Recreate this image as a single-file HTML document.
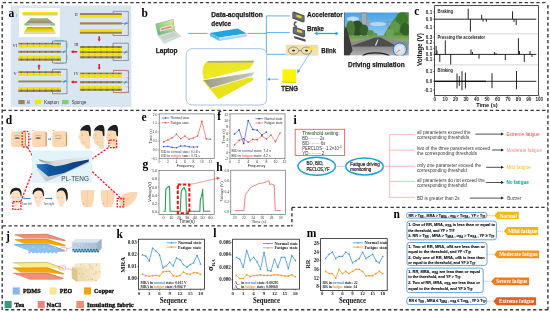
<!DOCTYPE html>
<html><head><meta charset="utf-8"><title>Figure</title>
<style>html,body{margin:0;padding:0;background:#fff;width:550px;height:312px;overflow:hidden}svg{display:block}</style>
</head><body>
<svg width="550" height="312" viewBox="0 0 550 312">
<defs>
<linearGradient id="spg" x1="0" y1="0" x2="0" y2="1"><stop offset="0" stop-color="#b6ad8e"/><stop offset="1" stop-color="#8f8468"/></linearGradient>
<linearGradient id="byg" x1="0" y1="0" x2="0" y2="1"><stop offset="0" stop-color="#b0a000"/><stop offset="0.55" stop-color="#e0d400"/><stop offset="1" stop-color="#f3e800"/></linearGradient>
<linearGradient id="scr" x1="1" y1="0" x2="0" y2="1"><stop offset="0" stop-color="#dcec8a"/><stop offset="0.45" stop-color="#a6d88a"/><stop offset="1" stop-color="#4fb27e"/></linearGradient>
<linearGradient id="ty1" x1="0" y1="0" x2="1" y2="1"><stop offset="0" stop-color="#ebe31a"/><stop offset="1" stop-color="#f2ec34"/></linearGradient>
<linearGradient id="tgr" x1="0" y1="0" x2="1" y2="0"><stop offset="0" stop-color="#9c9c86"/><stop offset="1" stop-color="#c9c9ba"/></linearGradient>
<linearGradient id="sky" x1="0" y1="0" x2="0" y2="1"><stop offset="0" stop-color="#4aa2e2"/><stop offset="1" stop-color="#cfe7f7"/></linearGradient>
<clipPath id="phc"><rect x="343.8" y="12.3" width="65" height="43.3"/></clipPath>
<linearGradient id="dsh" x1="0" y1="0" x2="0" y2="1"><stop offset="0" stop-color="#8a8a8a"/><stop offset="1" stop-color="#b2b2b2"/></linearGradient>
<linearGradient id="plg" x1="0" y1="0" x2="1" y2="0"><stop offset="0" stop-color="#8d9196"/><stop offset="0.3" stop-color="#d4d7da"/><stop offset="1" stop-color="#e6e8ea"/></linearGradient>
<linearGradient id="plb" x1="0" y1="0" x2="1" y2="0"><stop offset="0" stop-color="#2a86d2"/><stop offset="0.25" stop-color="#0d57a0"/><stop offset="1" stop-color="#0a3d78"/></linearGradient>
<linearGradient id="plw" x1="0" y1="0" x2="1" y2="1"><stop offset="0" stop-color="#eef0f2"/><stop offset="0.5" stop-color="#c9ced3"/><stop offset="1" stop-color="#8f969d"/></linearGradient>
<linearGradient id="pdm" x1="0" y1="0" x2="1" y2="0"><stop offset="0" stop-color="#c9d9ea"/><stop offset="1" stop-color="#aabdd1"/></linearGradient>
<linearGradient id="peo" x1="0" y1="0" x2="1" y2="0"><stop offset="0" stop-color="#e8d8a6"/><stop offset="1" stop-color="#f7eccb"/></linearGradient>
</defs>
<rect x="0" y="0" width="550" height="312" fill="#fff"/>
<rect x="10.8" y="5.5" width="120.6" height="101.7" fill="#d9e5f0" />
<text x="8.4" y="16.9" font-family="'Liberation Serif', serif" font-size="11.5" font-weight="bold" fill="#000" text-anchor="start" >a</text>
<rect x="18.9" y="8.1" width="40.9" height="28.9" fill="#ffffff" />
<text x="16.2" y="16.5" font-family="'Liberation Serif', serif" font-size="3.5" font-weight="normal" fill="#777" text-anchor="start" >I</text>
<rect x="22.6" y="12" width="35" height="3.6" fill="#f3e600" />
<rect x="22.6" y="13.4" width="35" height="1.2" fill="#cdc7ab" />
<polygon points="30.7,18.2 47.5,18.2 54.8,24.2 24.5,24.2" fill="url(#spg)" />
<polygon points="24.5,23.2 54.8,23.2 54.8,25.7 24.5,25.7" fill="#c9c7c0" />
<ellipse cx="27" cy="24.3" rx="2.6" ry="1.1" fill="#77d36f" />
<ellipse cx="52.5" cy="24.3" rx="2.6" ry="1.1" fill="#77d36f" />
<ellipse cx="32.5" cy="19" rx="2" ry="0.9" fill="#77d36f" />
<ellipse cx="46" cy="19" rx="2" ry="0.9" fill="#77d36f" />
<polygon points="27.3,26.9 52,26.9 55.4,32.2 24,32.2" fill="url(#byg)" />
<rect x="24" y="32.2" width="31.4" height="1.4" fill="#ddd6b0" />
<rect x="24" y="33" width="31.4" height="0.8" fill="#f3e600" />
<rect x="79.9" y="13" width="42" height="2" fill="#9a8654" />
<rect x="79.9" y="15" width="42" height="2.8" fill="#f3e600" />
<rect x="79.9" y="22.3" width="42" height="2.2" fill="#9a8654" />
<rect x="79.9" y="29" width="42" height="2.8" fill="#f3e600" />
<rect x="79.9" y="31.8" width="42" height="2" fill="#9a8654" />
<polyline points="113,13 113,11.4 128.3,11.4 128.3,35.5 113,35.5 113,33.8" fill="none" stroke="#5a5f66" stroke-width="0.6" />
<line x1="122" y1="23.4" x2="128.3" y2="23.4" stroke="#5a5f66" stroke-width="0.6" />
<polygon points="123.6,25.4 125.5,23 124.7,23 127.6,21.4 125.7,23.8 126.5,23.8" fill="#1a8fe0" />
<text x="74.8" y="16" font-family="'Liberation Serif', serif" font-size="4.4" font-weight="normal" fill="#333" text-anchor="start" >II</text>
<line x1="99.2" y1="36.2" x2="99.2" y2="39.6" stroke="#e8141c" stroke-width="1.5" />
<polygon points="97.5,39.2 100.9,39.2 99.2,41.6" fill="#e8141c" />
<rect x="79.9" y="46" width="42" height="2" fill="#9a8654" />
<rect x="82.4" y="46.5" width="1" height="1" fill="#3d3a33" />
<rect x="88.4" y="46.5" width="1" height="1" fill="#3d3a33" />
<rect x="94.4" y="46.5" width="1" height="1" fill="#3d3a33" />
<rect x="100.4" y="46.5" width="1" height="1" fill="#3d3a33" />
<rect x="106.4" y="46.5" width="1" height="1" fill="#3d3a33" />
<rect x="112.4" y="46.5" width="1" height="1" fill="#3d3a33" />
<rect x="118.4" y="46.5" width="1" height="1" fill="#3d3a33" />
<rect x="79.9" y="48" width="42" height="3" fill="#f3e600" />
<rect x="82.3" y="49.3" width="1.2" height="0.4" fill="#8a8060" />
<rect x="88.3" y="49.3" width="1.2" height="0.4" fill="#8a8060" />
<rect x="94.3" y="49.3" width="1.2" height="0.4" fill="#8a8060" />
<rect x="100.3" y="49.3" width="1.2" height="0.4" fill="#8a8060" />
<rect x="106.3" y="49.3" width="1.2" height="0.4" fill="#8a8060" />
<rect x="112.3" y="49.3" width="1.2" height="0.4" fill="#8a8060" />
<rect x="118.3" y="49.3" width="1.2" height="0.4" fill="#8a8060" />
<rect x="79.9" y="51.2" width="42" height="2" fill="#9a8654" />
<rect x="82.4" y="51.7" width="1" height="1" fill="#3d3a33" />
<rect x="88.4" y="51.7" width="1" height="1" fill="#3d3a33" />
<rect x="94.4" y="51.7" width="1" height="1" fill="#3d3a33" />
<rect x="100.4" y="51.7" width="1" height="1" fill="#3d3a33" />
<rect x="106.4" y="51.7" width="1" height="1" fill="#3d3a33" />
<rect x="112.4" y="51.7" width="1" height="1" fill="#3d3a33" />
<rect x="118.4" y="51.7" width="1" height="1" fill="#3d3a33" />
<rect x="79.9" y="53.2" width="42" height="3" fill="#f3e600" />
<rect x="82.3" y="54.5" width="1.2" height="0.4" fill="#8a8060" />
<rect x="88.3" y="54.5" width="1.2" height="0.4" fill="#8a8060" />
<rect x="94.3" y="54.5" width="1.2" height="0.4" fill="#8a8060" />
<rect x="100.3" y="54.5" width="1.2" height="0.4" fill="#8a8060" />
<rect x="106.3" y="54.5" width="1.2" height="0.4" fill="#8a8060" />
<rect x="112.3" y="54.5" width="1.2" height="0.4" fill="#8a8060" />
<rect x="118.3" y="54.5" width="1.2" height="0.4" fill="#8a8060" />
<rect x="79.9" y="56.2" width="42" height="2.2" fill="#9a8654" />
<rect x="82.4" y="56.8" width="1" height="1" fill="#3d3a33" />
<rect x="88.4" y="56.8" width="1" height="1" fill="#3d3a33" />
<rect x="94.4" y="56.8" width="1" height="1" fill="#3d3a33" />
<rect x="100.4" y="56.8" width="1" height="1" fill="#3d3a33" />
<rect x="106.4" y="56.8" width="1" height="1" fill="#3d3a33" />
<rect x="112.4" y="56.8" width="1" height="1" fill="#3d3a33" />
<rect x="118.4" y="56.8" width="1" height="1" fill="#3d3a33" />
<polyline points="113,46 113,43.2 128.3,43.2 128.3,60.5 113,60.5 113,58.4" fill="none" stroke="#5a5f66" stroke-width="0.6" />
<line x1="122" y1="52.2" x2="128.3" y2="52.2" stroke="#5a5f66" stroke-width="0.6" />
<polygon points="123.6,54.2 125.5,51.8 124.7,51.8 127.6,50.2 125.7,52.6 126.5,52.6" fill="#1a8fe0" />
<text x="74.2" y="46.4" font-family="'Liberation Serif', serif" font-size="4.4" font-weight="normal" fill="#333" text-anchor="start" >III</text>
<line x1="77.2" y1="51.8" x2="73" y2="51.8" stroke="#e8141c" stroke-width="1.5" />
<polygon points="73.4,50.1 73.4,53.5 71,51.8" fill="#e8141c" />
<line x1="99.2" y1="64" x2="99.2" y2="67.8" stroke="#e8141c" stroke-width="1.5" />
<polygon points="97.5,67.4 100.9,67.4 99.2,69.8" fill="#e8141c" />
<rect x="79.9" y="72.6" width="42" height="1.8" fill="#9a8654" />
<rect x="82.4" y="73" width="1" height="1" fill="#3d3a33" />
<rect x="88.4" y="73" width="1" height="1" fill="#3d3a33" />
<rect x="94.4" y="73" width="1" height="1" fill="#3d3a33" />
<rect x="100.4" y="73" width="1" height="1" fill="#3d3a33" />
<rect x="106.4" y="73" width="1" height="1" fill="#3d3a33" />
<rect x="112.4" y="73" width="1" height="1" fill="#3d3a33" />
<rect x="118.4" y="73" width="1" height="1" fill="#3d3a33" />
<rect x="79.9" y="74.4" width="42" height="3.4" fill="#f3e600" />
<rect x="82.3" y="75.9" width="1.2" height="0.4" fill="#8a8060" />
<rect x="88.3" y="75.9" width="1.2" height="0.4" fill="#8a8060" />
<rect x="94.3" y="75.9" width="1.2" height="0.4" fill="#8a8060" />
<rect x="100.3" y="75.9" width="1.2" height="0.4" fill="#8a8060" />
<rect x="106.3" y="75.9" width="1.2" height="0.4" fill="#8a8060" />
<rect x="112.3" y="75.9" width="1.2" height="0.4" fill="#8a8060" />
<rect x="118.3" y="75.9" width="1.2" height="0.4" fill="#8a8060" />
<rect x="79.9" y="81.1" width="42" height="2.2" fill="#9a8654" />
<rect x="82.4" y="81.7" width="1" height="1" fill="#3d3a33" />
<rect x="88.4" y="81.7" width="1" height="1" fill="#3d3a33" />
<rect x="94.4" y="81.7" width="1" height="1" fill="#3d3a33" />
<rect x="100.4" y="81.7" width="1" height="1" fill="#3d3a33" />
<rect x="106.4" y="81.7" width="1" height="1" fill="#3d3a33" />
<rect x="112.4" y="81.7" width="1" height="1" fill="#3d3a33" />
<rect x="118.4" y="81.7" width="1" height="1" fill="#3d3a33" />
<rect x="79.9" y="85.7" width="42" height="3" fill="#f3e600" />
<rect x="82.3" y="87" width="1.2" height="0.4" fill="#8a8060" />
<rect x="88.3" y="87" width="1.2" height="0.4" fill="#8a8060" />
<rect x="94.3" y="87" width="1.2" height="0.4" fill="#8a8060" />
<rect x="100.3" y="87" width="1.2" height="0.4" fill="#8a8060" />
<rect x="106.3" y="87" width="1.2" height="0.4" fill="#8a8060" />
<rect x="112.3" y="87" width="1.2" height="0.4" fill="#8a8060" />
<rect x="118.3" y="87" width="1.2" height="0.4" fill="#8a8060" />
<rect x="79.9" y="88.7" width="42" height="2.2" fill="#9a8654" />
<rect x="82.4" y="89.3" width="1" height="1" fill="#3d3a33" />
<rect x="88.4" y="89.3" width="1" height="1" fill="#3d3a33" />
<rect x="94.4" y="89.3" width="1" height="1" fill="#3d3a33" />
<rect x="100.4" y="89.3" width="1" height="1" fill="#3d3a33" />
<rect x="106.4" y="89.3" width="1" height="1" fill="#3d3a33" />
<rect x="112.4" y="89.3" width="1" height="1" fill="#3d3a33" />
<rect x="118.4" y="89.3" width="1" height="1" fill="#3d3a33" />
<polyline points="113.4,72.6 113.4,70.5 128.5,70.5 128.5,92.5 113.4,92.5 113.4,90.9" fill="none" stroke="#5a5f66" stroke-width="0.6" />
<line x1="122" y1="82.2" x2="128.5" y2="82.2" stroke="#5a5f66" stroke-width="0.6" />
<polygon points="123.6,84.2 125.5,81.8 124.7,81.8 127.6,80.2 125.7,82.6 126.5,82.6" fill="#1a8fe0" />
<line x1="126.5" y1="71.5" x2="129.5" y2="72.7" stroke="#f05a5a" stroke-width="0.5" />
<line x1="126.5" y1="77.5" x2="129.5" y2="78.7" stroke="#f05a5a" stroke-width="0.5" />
<line x1="126.5" y1="86.5" x2="129.5" y2="87.7" stroke="#f05a5a" stroke-width="0.5" />
<line x1="126.5" y1="91.8" x2="129.5" y2="93" stroke="#f05a5a" stroke-width="0.5" />
<line x1="114.5" y1="70.3" x2="126" y2="70.3" stroke="#f05a5a" stroke-width="0.5" />
<line x1="114.5" y1="92.7" x2="126" y2="92.7" stroke="#f05a5a" stroke-width="0.5" />
<text x="74" y="75.2" font-family="'Liberation Serif', serif" font-size="4.4" font-weight="normal" fill="#333" text-anchor="start" >IV</text>
<line x1="77.2" y1="82" x2="73" y2="82" stroke="#e8141c" stroke-width="1.5" />
<polygon points="73.4,80.3 73.4,83.7 71,82" fill="#e8141c" />
<rect x="18.3" y="42.8" width="42.7" height="1.9" fill="#9a8654" />
<rect x="20.8" y="43.25" width="1" height="1" fill="#3d3a33" />
<rect x="26.92" y="43.25" width="1" height="1" fill="#3d3a33" />
<rect x="33.03" y="43.25" width="1" height="1" fill="#3d3a33" />
<rect x="39.15" y="43.25" width="1" height="1" fill="#3d3a33" />
<rect x="45.27" y="43.25" width="1" height="1" fill="#3d3a33" />
<rect x="51.38" y="43.25" width="1" height="1" fill="#3d3a33" />
<rect x="57.5" y="43.25" width="1" height="1" fill="#3d3a33" />
<rect x="18.3" y="44.7" width="42.7" height="2.9" fill="#f3e600" />
<rect x="20.7" y="45.95" width="1.2" height="0.4" fill="#8a8060" />
<rect x="26.82" y="45.95" width="1.2" height="0.4" fill="#8a8060" />
<rect x="32.93" y="45.95" width="1.2" height="0.4" fill="#8a8060" />
<rect x="39.05" y="45.95" width="1.2" height="0.4" fill="#8a8060" />
<rect x="45.17" y="45.95" width="1.2" height="0.4" fill="#8a8060" />
<rect x="51.28" y="45.95" width="1.2" height="0.4" fill="#8a8060" />
<rect x="57.4" y="45.95" width="1.2" height="0.4" fill="#8a8060" />
<rect x="18.3" y="50.8" width="42.7" height="2" fill="#9a8654" />
<rect x="20.8" y="51.3" width="1" height="1" fill="#3d3a33" />
<rect x="26.92" y="51.3" width="1" height="1" fill="#3d3a33" />
<rect x="33.03" y="51.3" width="1" height="1" fill="#3d3a33" />
<rect x="39.15" y="51.3" width="1" height="1" fill="#3d3a33" />
<rect x="45.27" y="51.3" width="1" height="1" fill="#3d3a33" />
<rect x="51.38" y="51.3" width="1" height="1" fill="#3d3a33" />
<rect x="57.5" y="51.3" width="1" height="1" fill="#3d3a33" />
<rect x="18.3" y="55.6" width="42.7" height="2.9" fill="#f3e600" />
<rect x="20.7" y="56.85" width="1.2" height="0.4" fill="#8a8060" />
<rect x="26.82" y="56.85" width="1.2" height="0.4" fill="#8a8060" />
<rect x="32.93" y="56.85" width="1.2" height="0.4" fill="#8a8060" />
<rect x="39.05" y="56.85" width="1.2" height="0.4" fill="#8a8060" />
<rect x="45.17" y="56.85" width="1.2" height="0.4" fill="#8a8060" />
<rect x="51.28" y="56.85" width="1.2" height="0.4" fill="#8a8060" />
<rect x="57.4" y="56.85" width="1.2" height="0.4" fill="#8a8060" />
<rect x="18.3" y="58.5" width="42.7" height="2.3" fill="#9a8654" />
<rect x="20.8" y="59.15" width="1" height="1" fill="#3d3a33" />
<rect x="26.92" y="59.15" width="1" height="1" fill="#3d3a33" />
<rect x="33.03" y="59.15" width="1" height="1" fill="#3d3a33" />
<rect x="39.15" y="59.15" width="1" height="1" fill="#3d3a33" />
<rect x="45.27" y="59.15" width="1" height="1" fill="#3d3a33" />
<rect x="51.38" y="59.15" width="1" height="1" fill="#3d3a33" />
<rect x="57.5" y="59.15" width="1" height="1" fill="#3d3a33" />
<polyline points="52.5,42.8 52.5,41 66.4,41 66.4,63 52.5,63 52.5,60.8" fill="none" stroke="#5a5f66" stroke-width="0.6" />
<line x1="61" y1="51.8" x2="66.4" y2="51.8" stroke="#5a5f66" stroke-width="0.6" />
<polygon points="62,53.8 63.9,51.4 63.1,51.4 66,49.8 64.1,52.2 64.9,52.2" fill="#1a8fe0" />
<line x1="55" y1="40.6" x2="64" y2="40.6" stroke="#1fb5a0" stroke-width="0.6" />
<line x1="55" y1="63.4" x2="64" y2="63.4" stroke="#1fb5a0" stroke-width="0.6" />
<line x1="67" y1="43" x2="67" y2="48" stroke="#1fb5a0" stroke-width="0.6" />
<line x1="67" y1="55" x2="67" y2="60" stroke="#1fb5a0" stroke-width="0.6" />
<text x="12.6" y="46.6" font-family="'Liberation Serif', serif" font-size="4.4" font-weight="normal" fill="#333" text-anchor="start" >VI</text>
<line x1="39" y1="69.6" x2="39" y2="66.2" stroke="#e8141c" stroke-width="1.5" />
<polygon points="37.3,66.6 40.7,66.6 39,64.2" fill="#e8141c" />
<rect x="18.3" y="71.2" width="42.7" height="1.9" fill="#9a8654" />
<rect x="20.8" y="71.65" width="1" height="1" fill="#3d3a33" />
<rect x="26.92" y="71.65" width="1" height="1" fill="#3d3a33" />
<rect x="33.03" y="71.65" width="1" height="1" fill="#3d3a33" />
<rect x="39.15" y="71.65" width="1" height="1" fill="#3d3a33" />
<rect x="45.27" y="71.65" width="1" height="1" fill="#3d3a33" />
<rect x="51.38" y="71.65" width="1" height="1" fill="#3d3a33" />
<rect x="57.5" y="71.65" width="1" height="1" fill="#3d3a33" />
<rect x="18.3" y="73.1" width="42.7" height="2.9" fill="#f3e600" />
<rect x="20.7" y="74.35" width="1.2" height="0.4" fill="#8a8060" />
<rect x="26.82" y="74.35" width="1.2" height="0.4" fill="#8a8060" />
<rect x="32.93" y="74.35" width="1.2" height="0.4" fill="#8a8060" />
<rect x="39.05" y="74.35" width="1.2" height="0.4" fill="#8a8060" />
<rect x="45.17" y="74.35" width="1.2" height="0.4" fill="#8a8060" />
<rect x="51.28" y="74.35" width="1.2" height="0.4" fill="#8a8060" />
<rect x="57.4" y="74.35" width="1.2" height="0.4" fill="#8a8060" />
<rect x="18.3" y="80.5" width="42.7" height="1.9" fill="#9a8654" />
<rect x="18.3" y="87" width="42.7" height="2.6" fill="#f3e600" />
<rect x="20.7" y="88.1" width="1.2" height="0.4" fill="#8a8060" />
<rect x="26.82" y="88.1" width="1.2" height="0.4" fill="#8a8060" />
<rect x="32.93" y="88.1" width="1.2" height="0.4" fill="#8a8060" />
<rect x="39.05" y="88.1" width="1.2" height="0.4" fill="#8a8060" />
<rect x="45.17" y="88.1" width="1.2" height="0.4" fill="#8a8060" />
<rect x="51.28" y="88.1" width="1.2" height="0.4" fill="#8a8060" />
<rect x="57.4" y="88.1" width="1.2" height="0.4" fill="#8a8060" />
<rect x="18.3" y="89.6" width="42.7" height="2.4" fill="#9a8654" />
<rect x="20.8" y="90.3" width="1" height="1" fill="#3d3a33" />
<rect x="26.92" y="90.3" width="1" height="1" fill="#3d3a33" />
<rect x="33.03" y="90.3" width="1" height="1" fill="#3d3a33" />
<rect x="39.15" y="90.3" width="1" height="1" fill="#3d3a33" />
<rect x="45.27" y="90.3" width="1" height="1" fill="#3d3a33" />
<rect x="51.38" y="90.3" width="1" height="1" fill="#3d3a33" />
<rect x="57.5" y="90.3" width="1" height="1" fill="#3d3a33" />
<polyline points="52.5,71.2 52.5,69.3 67,69.3 67,93.7 52.5,93.7 52.5,92" fill="none" stroke="#5a5f66" stroke-width="0.6" />
<line x1="61" y1="81.4" x2="67" y2="81.4" stroke="#5a5f66" stroke-width="0.6" />
<polygon points="62.6,83.4 64.5,81 63.7,81 66.6,79.4 64.7,81.8 65.5,81.8" fill="#1a8fe0" />
<text x="13.4" y="74.8" font-family="'Liberation Serif', serif" font-size="4.4" font-weight="normal" fill="#333" text-anchor="start" >V</text>
<rect x="18.3" y="100" width="6.4" height="4.2" fill="#9a8654" />
<text x="26.8" y="104" font-family="'Liberation Sans', sans-serif" font-size="5.2" font-weight="normal" fill="#333" text-anchor="start"  textLength="2.9" lengthAdjust="spacingAndGlyphs">Al</text>
<rect x="34.8" y="100" width="6.4" height="4.2" fill="#f3e600" />
<text x="44" y="104" font-family="'Liberation Sans', sans-serif" font-size="5.2" font-weight="normal" fill="#333" text-anchor="start"  textLength="14.9" lengthAdjust="spacingAndGlyphs">Kapton</text>
<rect x="62" y="100" width="6.5" height="4.2" fill="#77d36f" />
<text x="71.7" y="104" font-family="'Liberation Sans', sans-serif" font-size="5.2" font-weight="normal" fill="#333" text-anchor="start"  textLength="14.6" lengthAdjust="spacingAndGlyphs">Sponge</text>
<text x="141.4" y="17" font-family="'Liberation Serif', serif" font-size="11.5" font-weight="bold" fill="#000" text-anchor="start" >b</text>
<polygon points="155.3,23.8 173.4,19 175,31 157.9,35.8" fill="#a7b0ad" />
<polygon points="155.9,24.3 172.9,19.8 174.4,30.6 158.4,35.1" fill="url(#scr)" />
<polygon points="159.6,28 172,24.8 172.6,28.2 160.2,31.4" fill="#f3e6e2" />
<polygon points="160.6,28.8 171.2,26.1 171.6,27.6 161,30.3" fill="#e0625e" opacity="0.75"/>
<polygon points="157.9,35.8 175,31 180.8,36.2 164.2,43.4" fill="#d6ddd9" stroke="#b3bbb7" stroke-width="0.4" />
<polygon points="160.5,36.6 174.6,32.6 177.8,35.6 164,40" fill="#c8d0cc" />
<text x="155.8" y="52.8" font-family="'Liberation Sans', sans-serif" font-size="6.9" font-weight="bold" fill="#1a1a1a" text-anchor="start" stroke="#1a1a1a" stroke-width="0.25" textLength="21.7" lengthAdjust="spacingAndGlyphs">Laptop</text>
<text x="211.3" y="17.4" font-family="'Liberation Sans', sans-serif" font-size="6.8" font-weight="bold" fill="#1a1a1a" text-anchor="start" stroke="#1a1a1a" stroke-width="0.25" textLength="51.5" lengthAdjust="spacingAndGlyphs">Data-acquisition</text>
<text x="211.3" y="25.5" font-family="'Liberation Sans', sans-serif" font-size="6.8" font-weight="bold" fill="#1a1a1a" text-anchor="start" stroke="#1a1a1a" stroke-width="0.25" textLength="19.8" lengthAdjust="spacingAndGlyphs">device</text>
<line x1="188" y1="33.4" x2="207.6" y2="33.4" stroke="#2ba3dc" stroke-width="0.8" />
<polygon points="209.8,33 237.5,28.4 246.6,33.4 219,37.4" fill="#1fa5e0" />
<polygon points="219,37.4 246.6,33.4 246.8,36.6 219.4,41" fill="#a3d9f1" />
<line x1="219.2" y1="38.3" x2="246.6" y2="34.3" stroke="#e8f6fc" stroke-width="0.5" />
<polygon points="209.8,33 219,37.4 219.4,41 210,36" fill="#5cbde8" />
<line x1="247.6" y1="33.4" x2="266.4" y2="33.4" stroke="#2ba3dc" stroke-width="0.8" />
<line x1="266.4" y1="15.9" x2="266.4" y2="54.3" stroke="#2ba3dc" stroke-width="0.8" />
<line x1="266.4" y1="15.9" x2="289.7" y2="15.9" stroke="#2ba3dc" stroke-width="0.8" />
<line x1="266.4" y1="32.6" x2="289.7" y2="32.6" stroke="#2ba3dc" stroke-width="0.8" />
<line x1="266.4" y1="54.3" x2="285.7" y2="54.3" stroke="#2ba3dc" stroke-width="0.8" />
<polygon points="292.3,12.5 294,11.6 304.6,15.6 304.6,21.6 303,22.6 292.3,18.6" fill="#55575b" />
<polygon points="293.2,13 303.8,16.4 303.8,20.8 293.2,17.6" fill="#6d6f73" />
<polygon points="296.5,14.4 301.5,16 301.5,18.5 296.5,16.9" fill="#e6cf3c" />
<polygon points="292.8,27.3 294.5,26.4 305.1,30.4 305.1,36.4 303.5,37.4 292.8,33.4" fill="#55575b" />
<polygon points="293.7,27.8 304.3,31.2 304.3,35.6 293.7,32.4" fill="#6d6f73" />
<polygon points="297,29.2 302,30.8 302,33.3 297,31.7" fill="#e6cf3c" />
<path d="M296.5,21.8 C293.5,23.0 293.2,25.2 296.8,26.8" fill="none" stroke="#4a4c50" stroke-width="1.5" />
<polygon points="294.2,36 305.6,39.6 305.6,41.8 294.2,38.2" fill="#4a4c50" />
<text x="307" y="16.5" font-family="'Liberation Sans', sans-serif" font-size="7.1" font-weight="bold" fill="#1a1a1a" text-anchor="start" stroke="#1a1a1a" stroke-width="0.25" textLength="35.8" lengthAdjust="spacingAndGlyphs">Accelerator</text>
<text x="307" y="30.6" font-family="'Liberation Sans', sans-serif" font-size="7.1" font-weight="bold" fill="#1a1a1a" text-anchor="start" stroke="#1a1a1a" stroke-width="0.25" textLength="17" lengthAdjust="spacingAndGlyphs">Brake</text>
<line x1="316.5" y1="33.5" x2="336.5" y2="33.5" stroke="#2ba3dc" stroke-width="1.3" />
<polygon points="314.4,33.5 317.4,31.6 317.4,35.4" fill="#2ba3dc" />
<polygon points="338.6,33.5 335.6,31.6 335.6,35.4" fill="#2ba3dc" />
<rect x="285.7" y="44.8" width="32.7" height="10.9" fill="#efe0b4" />
<ellipse cx="293.5" cy="50.6" rx="5.2" ry="3.6" fill="none" stroke="#444" stroke-width="0.45" />
<ellipse cx="306.5" cy="50.6" rx="5.2" ry="3.6" fill="none" stroke="#444" stroke-width="0.45" />
<line x1="298.7" y1="50.6" x2="301.3" y2="50.6" stroke="#444" stroke-width="0.45" />
<ellipse cx="293.5" cy="50.6" rx="1.5" ry="0.9" fill="#222" />
<ellipse cx="306.5" cy="50.6" rx="1.5" ry="0.9" fill="#222" />
<polygon points="311,45.8 311.9,47.6 313.8,47.7 312.3,48.9 312.9,50.8 311,49.7 309.1,50.8 309.7,48.9 308.2,47.7 310.1,47.6" fill="#ffe600" />
<text x="321.3" y="52.8" font-family="'Liberation Sans', sans-serif" font-size="7.1" font-weight="bold" fill="#1a1a1a" text-anchor="start" stroke="#1a1a1a" stroke-width="0.25" textLength="14.7" lengthAdjust="spacingAndGlyphs">Blink</text>
<line x1="311" y1="51.5" x2="298.4" y2="71" stroke="#2ba3dc" stroke-width="0.6" />
<polygon points="297.2,73.2 297.4,69.2 300.4,70.9" fill="#2ba3dc" />
<rect x="282.4" y="69.4" width="13.8" height="13.3" fill="#fff500" />
<rect x="282.4" y="81.7" width="13.8" height="1" fill="#d8cc00" />
<text x="281.3" y="90.7" font-family="'Liberation Sans', sans-serif" font-size="7.5" font-weight="bold" fill="#1a1a1a" text-anchor="start" stroke="#1a1a1a" stroke-width="0.3" textLength="16.6" lengthAdjust="spacingAndGlyphs">TENG</text>
<line x1="278.5" y1="79.2" x2="269.5" y2="79.2" stroke="#2ba3dc" stroke-width="0.7" />
<polygon points="267.3,79.2 270,77.7 270,80.7" fill="#2ba3dc" />
<rect x="186.1" y="48.7" width="80.6" height="56.3" fill="#fff" stroke="#8fb5d3" stroke-width="0.8" rx="6" />
<polygon points="202.5,80 253.5,77.6 252.8,80.6 218.6,99.2" fill="#e9e21a" />
<polygon points="202.5,80 218.6,99.2 217.2,97.4" fill="#d2cb10" />
<polygon points="203.8,80.2 254.5,72.2 251.5,76.2 210.8,88.4" fill="url(#tgr)" />
<line x1="211" y1="88.2" x2="251.5" y2="76.4" stroke="#f4f4ee" stroke-width="0.9" />
<path d="M207.9,61 L254,60.7 C253,64 251.5,66.5 249.7,68.5 L204.0,79.8 C202.4,76 202.0,71 203.0,67 C204.0,64.5 205.5,62.5 207.9,61 Z" fill="url(#ty1)" />
<path d="M207.9,61 L254,60.7 L253.7,62.4 L207.3,62.7 Z" fill="#a9a994" />
<path d="M204.0,79.4 C202.6,75.8 202.3,71 203.2,67.2" fill="none" stroke="#f7f2a0" stroke-width="0.8" />
<g clip-path="url(#phc)">
<rect x="343.8" y="12.3" width="65" height="43.3" fill="url(#sky)" />
<ellipse cx="353" cy="19" rx="6" ry="2.5" fill="#e3f0fa" opacity="0.7"/>
<ellipse cx="378" cy="24" rx="8" ry="2" fill="#e3f0fa" opacity="0.6"/>
<rect x="360.7" y="12.3" width="6.6" height="14.2" fill="#8794a3" />
<rect x="362" y="13.5" width="4.2" height="13" fill="#a0adb9" />
<rect x="367.3" y="20" width="2.2" height="7" fill="#9aa6b2" />
<line x1="388" y1="21" x2="388" y2="36" stroke="#8a8a8a" stroke-width="0.6" />
<line x1="385" y1="21.5" x2="391" y2="21.5" stroke="#8a8a8a" stroke-width="0.5" />
<path d="M408.8,12.3 L403,12.3 C397,15 393,20 390,25 C387,29 385,33 383,37 L408.8,40 Z" fill="#4f8a3a" />
<ellipse cx="402" cy="19" rx="6" ry="7" fill="#3f7a2c" />
<ellipse cx="395" cy="27" rx="5" ry="5.5" fill="#5e9848" />
<ellipse cx="405" cy="30" rx="5" ry="7" fill="#335f26" />
<ellipse cx="390" cy="33" rx="4" ry="4" fill="#6aa452" />
<ellipse cx="399" cy="36" rx="4.5" ry="3" fill="#4f8a3a" />
<ellipse cx="357" cy="28.5" rx="6.5" ry="8" fill="#2c4f25" />
<ellipse cx="364" cy="30.5" rx="4.5" ry="6" fill="#35602b" />
<ellipse cx="350.5" cy="29" rx="4.5" ry="8.5" fill="#4a7a3a" />
<ellipse cx="370.5" cy="33.5" rx="3.5" ry="3.5" fill="#5a8f45" />
<ellipse cx="375" cy="34.8" rx="2.5" ry="2" fill="#6a9a50" />
<rect x="343.8" y="35.5" width="65" height="8.5" fill="#72a055" />
<rect x="343.8" y="38.5" width="65" height="5.5" fill="#86a868" />
<polygon points="343.8,43.5 375,37.2 381,37.2 408.8,42.5 408.8,46.8 343.8,46.8" fill="#8c8c8c" />
<polygon points="349,46.8 375.2,37.4 380.8,37.4 398,46.8" fill="#4d4d4d" />
<polygon points="377.6,39.5 378.5,39.5 376.2,45.5 374.8,45.5" fill="#e6e6e6" />
<rect x="343.8" y="46.8" width="65" height="8.8" fill="url(#dsh)" />
<path d="M362.5,55.9 C367,51.9 383,51.9 389.5,55.9" fill="none" stroke="#1c1c1c" stroke-width="1.3" />
<polygon points="343.8,26 346.5,28 350.5,42 352.5,50.5 349.5,55.6 343.8,55.6" fill="#3b3b3b" />
<rect x="343.8" y="12.3" width="1" height="17.7" fill="#5a6a5a" />
<circle cx="399.8" cy="49.6" r="6.6" fill="#dfe5ea" stroke="#2a7ed0" stroke-width="1.1" />
<circle cx="399.8" cy="49.6" r="5" fill="none" stroke="#9aa8b5" stroke-width="0.6" stroke-dasharray="0.5 0.8"/>
<line x1="399.8" y1="50" x2="396.5" y2="52.5" stroke="#e03030" stroke-width="0.6" />
</g>
<text x="348" y="66.6" font-family="'Liberation Sans', sans-serif" font-size="7.5" font-weight="bold" fill="#1a1a1a" text-anchor="start" stroke="#1a1a1a" stroke-width="0.25" textLength="56.6" lengthAdjust="spacingAndGlyphs">Driving simulation</text>
<text x="414.3" y="14.5" font-family="'Liberation Serif', serif" font-size="11.5" font-weight="bold" fill="#000" text-anchor="start" >c</text>
<rect x="434.6" y="33" width="104" height="1.6" fill="#e4e4e4" />
<rect x="434.6" y="64" width="104" height="1.6" fill="#e4e4e4" />
<rect x="434.6" y="5.6" width="104" height="89.9" fill="none" stroke="#222" stroke-width="0.8" />
<line x1="433.1" y1="11.9" x2="434.6" y2="11.9" stroke="#222" stroke-width="0.5" />
<text x="432.2" y="13.5" font-family="'Liberation Sans', sans-serif" font-size="4.6" font-weight="bold" fill="#222" text-anchor="end" >0.1</text>
<line x1="433.1" y1="19.2" x2="434.6" y2="19.2" stroke="#222" stroke-width="0.5" />
<text x="432.2" y="20.8" font-family="'Liberation Sans', sans-serif" font-size="4.6" font-weight="bold" fill="#222" text-anchor="end" >0.0</text>
<line x1="433.1" y1="26.9" x2="434.6" y2="26.9" stroke="#222" stroke-width="0.5" />
<text x="432.2" y="28.5" font-family="'Liberation Sans', sans-serif" font-size="4.6" font-weight="bold" fill="#222" text-anchor="end" >-0.1</text>
<line x1="433.1" y1="37.2" x2="434.6" y2="37.2" stroke="#222" stroke-width="0.5" />
<text x="432.2" y="38.8" font-family="'Liberation Sans', sans-serif" font-size="4.6" font-weight="bold" fill="#222" text-anchor="end" >0.3</text>
<line x1="433.1" y1="42.8" x2="434.6" y2="42.8" stroke="#222" stroke-width="0.5" />
<text x="432.2" y="44.4" font-family="'Liberation Sans', sans-serif" font-size="4.6" font-weight="bold" fill="#222" text-anchor="end" >0.2</text>
<line x1="433.1" y1="48.4" x2="434.6" y2="48.4" stroke="#222" stroke-width="0.5" />
<text x="432.2" y="50" font-family="'Liberation Sans', sans-serif" font-size="4.6" font-weight="bold" fill="#222" text-anchor="end" >0.1</text>
<line x1="433.1" y1="54.2" x2="434.6" y2="54.2" stroke="#222" stroke-width="0.5" />
<text x="432.2" y="55.8" font-family="'Liberation Sans', sans-serif" font-size="4.6" font-weight="bold" fill="#222" text-anchor="end" >0.0</text>
<line x1="433.1" y1="59.8" x2="434.6" y2="59.8" stroke="#222" stroke-width="0.5" />
<text x="432.2" y="61.4" font-family="'Liberation Sans', sans-serif" font-size="4.6" font-weight="bold" fill="#222" text-anchor="end" >-0.1</text>
<line x1="433.1" y1="71.5" x2="434.6" y2="71.5" stroke="#222" stroke-width="0.5" />
<text x="432.2" y="73.1" font-family="'Liberation Sans', sans-serif" font-size="4.6" font-weight="bold" fill="#222" text-anchor="end" >0.1</text>
<line x1="433.1" y1="81.2" x2="434.6" y2="81.2" stroke="#222" stroke-width="0.5" />
<text x="432.2" y="82.8" font-family="'Liberation Sans', sans-serif" font-size="4.6" font-weight="bold" fill="#222" text-anchor="end" >0.0</text>
<line x1="433.1" y1="90.1" x2="434.6" y2="90.1" stroke="#222" stroke-width="0.5" />
<text x="432.2" y="91.7" font-family="'Liberation Sans', sans-serif" font-size="4.6" font-weight="bold" fill="#222" text-anchor="end" >-0.1</text>
<line x1="434.7" y1="95.5" x2="434.7" y2="97" stroke="#222" stroke-width="0.5" />
<text x="434.7" y="101.4" font-family="'Liberation Sans', sans-serif" font-size="4.6" font-weight="bold" fill="#222" text-anchor="middle" >0</text>
<line x1="445.17" y1="95.5" x2="445.17" y2="97" stroke="#222" stroke-width="0.5" />
<text x="445.17" y="101.4" font-family="'Liberation Sans', sans-serif" font-size="4.6" font-weight="bold" fill="#222" text-anchor="middle" >10</text>
<line x1="455.63" y1="95.5" x2="455.63" y2="97" stroke="#222" stroke-width="0.5" />
<text x="455.63" y="101.4" font-family="'Liberation Sans', sans-serif" font-size="4.6" font-weight="bold" fill="#222" text-anchor="middle" >20</text>
<line x1="466.1" y1="95.5" x2="466.1" y2="97" stroke="#222" stroke-width="0.5" />
<text x="466.1" y="101.4" font-family="'Liberation Sans', sans-serif" font-size="4.6" font-weight="bold" fill="#222" text-anchor="middle" >30</text>
<line x1="476.56" y1="95.5" x2="476.56" y2="97" stroke="#222" stroke-width="0.5" />
<text x="476.56" y="101.4" font-family="'Liberation Sans', sans-serif" font-size="4.6" font-weight="bold" fill="#222" text-anchor="middle" >40</text>
<line x1="487.03" y1="95.5" x2="487.03" y2="97" stroke="#222" stroke-width="0.5" />
<text x="487.03" y="101.4" font-family="'Liberation Sans', sans-serif" font-size="4.6" font-weight="bold" fill="#222" text-anchor="middle" >50</text>
<line x1="497.49" y1="95.5" x2="497.49" y2="97" stroke="#222" stroke-width="0.5" />
<text x="497.49" y="101.4" font-family="'Liberation Sans', sans-serif" font-size="4.6" font-weight="bold" fill="#222" text-anchor="middle" >60</text>
<line x1="507.96" y1="95.5" x2="507.96" y2="97" stroke="#222" stroke-width="0.5" />
<text x="507.96" y="101.4" font-family="'Liberation Sans', sans-serif" font-size="4.6" font-weight="bold" fill="#222" text-anchor="middle" >70</text>
<line x1="518.42" y1="95.5" x2="518.42" y2="97" stroke="#222" stroke-width="0.5" />
<text x="518.42" y="101.4" font-family="'Liberation Sans', sans-serif" font-size="4.6" font-weight="bold" fill="#222" text-anchor="middle" >80</text>
<line x1="528.88" y1="95.5" x2="528.88" y2="97" stroke="#222" stroke-width="0.5" />
<text x="528.88" y="101.4" font-family="'Liberation Sans', sans-serif" font-size="4.6" font-weight="bold" fill="#222" text-anchor="middle" >90</text>
<line x1="539.35" y1="95.5" x2="539.35" y2="97" stroke="#222" stroke-width="0.5" />
<text x="539.35" y="101.4" font-family="'Liberation Sans', sans-serif" font-size="4.6" font-weight="bold" fill="#222" text-anchor="middle" >100</text>
<text x="476.2" y="106.6" font-family="'Liberation Sans', sans-serif" font-size="6.2" font-weight="bold" fill="#111" text-anchor="start"  textLength="21.5" lengthAdjust="spacingAndGlyphs">Time (s)</text>
<text x="0" y="0" font-family="'Liberation Sans', sans-serif" font-size="6.4" font-weight="bold" fill="#111" text-anchor="middle" transform="translate(421.5,49.5) rotate(-90)" textLength="33" lengthAdjust="spacingAndGlyphs">Voltage (V)</text>
<text x="437.6" y="12.6" font-family="'Liberation Sans', sans-serif" font-size="4.8" font-weight="bold" fill="#1a1a1a" text-anchor="start"  textLength="15.4" lengthAdjust="spacingAndGlyphs">Braking</text>
<text x="437.6" y="38.7" font-family="'Liberation Sans', sans-serif" font-size="4.8" font-weight="bold" fill="#1a1a1a" text-anchor="start"  textLength="47.6" lengthAdjust="spacingAndGlyphs">Pressing the accelerator</text>
<text x="437.6" y="72.3" font-family="'Liberation Sans', sans-serif" font-size="4.8" font-weight="bold" fill="#1a1a1a" text-anchor="start"  textLength="15.4" lengthAdjust="spacingAndGlyphs">Blinking</text>
<line x1="434.6" y1="19.2" x2="536.3" y2="19.2" stroke="#000" stroke-width="0.85" />
<line x1="468.2" y1="19.2" x2="468.2" y2="8.7" stroke="#000" stroke-width="0.85" />
<line x1="470.4" y1="19.2" x2="470.4" y2="31.6" stroke="#000" stroke-width="0.85" />
<line x1="481.7" y1="19.2" x2="481.7" y2="14.8" stroke="#000" stroke-width="0.85" />
<line x1="483" y1="19.2" x2="483" y2="21.5" stroke="#000" stroke-width="0.85" />
<line x1="486.3" y1="19.2" x2="486.3" y2="21.8" stroke="#000" stroke-width="0.85" />
<line x1="512.5" y1="19.2" x2="512.5" y2="11.4" stroke="#000" stroke-width="0.85" />
<line x1="516.2" y1="19.2" x2="516.2" y2="25" stroke="#000" stroke-width="0.85" />
<line x1="514" y1="19.2" x2="514" y2="22" stroke="#000" stroke-width="0.85" />
<line x1="434.6" y1="54.4" x2="536.3" y2="54.4" stroke="#000" stroke-width="0.85" />
<line x1="436.1" y1="54.4" x2="436.1" y2="45.8" stroke="#000" stroke-width="0.85" />
<line x1="437" y1="54.4" x2="437" y2="50.5" stroke="#000" stroke-width="0.85" />
<line x1="439.8" y1="54.4" x2="439.8" y2="62" stroke="#000" stroke-width="0.85" />
<line x1="445.3" y1="54.4" x2="445.3" y2="40.4" stroke="#000" stroke-width="0.85" />
<line x1="450.7" y1="54.4" x2="450.7" y2="64.5" stroke="#000" stroke-width="0.85" />
<line x1="471" y1="54.4" x2="471" y2="49.5" stroke="#000" stroke-width="0.85" />
<line x1="472.5" y1="54.4" x2="472.5" y2="52" stroke="#000" stroke-width="0.85" />
<line x1="479" y1="54.4" x2="479" y2="58.7" stroke="#000" stroke-width="0.85" />
<line x1="494.4" y1="54.4" x2="494.4" y2="52" stroke="#000" stroke-width="0.85" />
<line x1="496" y1="54.4" x2="496" y2="53" stroke="#000" stroke-width="0.85" />
<line x1="505.3" y1="54.4" x2="505.3" y2="60" stroke="#000" stroke-width="0.85" />
<line x1="518.4" y1="54.4" x2="518.4" y2="38.2" stroke="#000" stroke-width="0.85" />
<line x1="519.5" y1="54.4" x2="519.5" y2="51" stroke="#000" stroke-width="0.85" />
<line x1="524.3" y1="54.4" x2="524.3" y2="62" stroke="#000" stroke-width="0.85" />
<line x1="530" y1="54.4" x2="530" y2="51" stroke="#000" stroke-width="0.85" />
<line x1="532" y1="54.4" x2="532" y2="57" stroke="#000" stroke-width="0.85" />
<rect x="434.6" y="80.6" width="51.4" height="1.4" fill="#111" />
<line x1="486" y1="81.3" x2="536.3" y2="81.3" stroke="#000" stroke-width="0.85" />
<line x1="457" y1="73.5" x2="457" y2="88.5" stroke="#000" stroke-width="0.85" />
<line x1="459.3" y1="76" x2="459.3" y2="86" stroke="#000" stroke-width="0.85" />
<line x1="462" y1="71.2" x2="462" y2="90.2" stroke="#000" stroke-width="0.85" />
<line x1="465.4" y1="72.5" x2="465.4" y2="88.5" stroke="#000" stroke-width="0.85" />
<line x1="492" y1="73.2" x2="492" y2="88.2" stroke="#000" stroke-width="0.85" />
<line x1="516.5" y1="71" x2="516.5" y2="89.2" stroke="#000" stroke-width="0.85" />
<text x="5.7" y="124" font-family="'Liberation Serif', serif" font-size="11.5" font-weight="bold" fill="#000" text-anchor="start" >d</text>
<rect x="11.2" y="131.2" width="14.8" height="15.8" fill="#fbd8b4" rx="2.2" />
<path d="M14,136 Q17.2,134.6 20.4,136" fill="none" stroke="#a08870" stroke-width="0.5" />
<path d="M14.2,138.2 Q17.2,136.2 20.2,138.2 Q17.2,139.4 14.2,138.2 Z" fill="#5e5048" />
<line x1="25.5" y1="132.4" x2="25.5" y2="145.8" stroke="#f5842c" stroke-width="1.1" />
<text x="10.9" y="130.6" font-family="'Liberation Serif', serif" font-size="2.6" font-weight="normal" fill="#555" text-anchor="start" >I</text>
<rect x="32.2" y="131.2" width="13" height="15.8" fill="#fbd8b4" rx="2.2" />
<path d="M35,136 Q38.2,134.6 41.4,136" fill="none" stroke="#a08870" stroke-width="0.5" />
<path d="M35.2,138.2 Q38.2,136.2 41.2,138.2 Q38.2,139.4 35.2,138.2 Z" fill="#5e5048" />
<polyline points="44.3,132 46.1,132 46.1,146.2 44.3,146.2" fill="none" stroke="#6e7f95" stroke-width="0.4" />
<line x1="46.1" y1="132.4" x2="46.1" y2="145.8" stroke="#f5842c" stroke-width="1.1" />
<text x="31.9" y="130.6" font-family="'Liberation Serif', serif" font-size="2.6" font-weight="normal" fill="#555" text-anchor="start" >II</text>
<rect x="52.2" y="131.2" width="13.3" height="15.8" fill="#fbd8b4" rx="2.2" />
<path d="M55,136 Q58.2,134.6 61.4,136" fill="none" stroke="#a08870" stroke-width="0.5" />
<path d="M55.2,138 Q58.2,139.2 61.2,138" fill="none" stroke="#8a7565" stroke-width="0.6" />
<polyline points="64.6,132 66.4,132 66.4,146.2 64.6,146.2" fill="none" stroke="#6e7f95" stroke-width="0.4" />
<line x1="66.4" y1="132.4" x2="66.4" y2="145.8" stroke="#f5842c" stroke-width="1.1" />
<text x="51.9" y="130.6" font-family="'Liberation Serif', serif" font-size="2.6" font-weight="normal" fill="#555" text-anchor="start" >III</text>
<line x1="28.6" y1="139.1" x2="30.5" y2="139.1" stroke="#2a8fd6" stroke-width="1.0" />
<polygon points="30.3,137.9 30.3,140.3 31.7,139.1" fill="#2a8fd6" />
<line x1="48" y1="139.1" x2="50.2" y2="139.1" stroke="#2a8fd6" stroke-width="1.0" />
<polygon points="50,137.9 50,140.3 51.4,139.1" fill="#2a8fd6" />
<rect x="22.2" y="131.3" width="6.6" height="15.7" fill="none" stroke="#f0141e" stroke-width="1.3" rx="1.5" stroke-dasharray="1.8 1.1"/>
<line x1="27.5" y1="147.3" x2="33.4" y2="157.2" stroke="#f0141e" stroke-width="1.3" stroke-dasharray="2.2 1.4" />
<path d="M80.9,130.5 C79.4,133 79.2,135.5 78.9,138.5 L80.3,139.5 C80.5,141.5 80.9,143.5 82.1,145 L84.9,146 L85.9,149 L90.4,148.6 L89.9,140 L90.4,131.5 Z" fill="#fbd8b4" />
<path d="M80.2,130.8 C81.4,126.5 84.9,124.8 88.4,125 C90.9,125.5 91.1,129.5 90.7,136.5 L89.2,135.5 L88.7,131.5 C85.4,130 82.4,130.3 80.2,130.8 Z" fill="#1f1f1f" />
<circle cx="82.2" cy="135" r="0.45" fill="#7a5040" />
<circle cx="83.7" cy="142.6" r="0.4" fill="#9a5a4a" />
<path d="M94.6,130.5 C93.1,133 92.9,135.5 92.6,138.5 L94,139.5 C94.2,141.5 94.6,143.5 95.8,145 L98.6,146 L99.6,149 L104.1,148.6 L103.6,140 L104.1,131.5 Z" fill="#fbd8b4" />
<path d="M93.9,130.8 C95.1,126.5 98.6,124.8 102.1,125 C104.6,125.5 104.8,129.5 104.4,136.5 L102.9,135.5 L102.4,131.5 C99.1,130 96.1,130.3 93.9,130.8 Z" fill="#1f1f1f" />
<circle cx="95.9" cy="135" r="0.45" fill="#7a5040" />
<circle cx="97.4" cy="142.6" r="0.4" fill="#9a5a4a" />
<path d="M108.2,130.5 C106.7,133 106.5,135.5 106.2,138.5 L107.6,139.5 C107.8,141.5 108.2,143.5 109.4,145 L112.2,146 L113.2,149 L117.7,148.6 L117.2,140 L117.7,131.5 Z" fill="#fbd8b4" />
<path d="M107.5,130.8 C108.7,126.5 112.2,124.8 115.7,125 C118.2,125.5 118.4,129.5 118,136.5 L116.5,135.5 L116,131.5 C112.7,130 109.7,130.3 107.5,130.8 Z" fill="#1f1f1f" />
<circle cx="109.5" cy="135" r="0.45" fill="#7a5040" />
<circle cx="111" cy="142.6" r="0.4" fill="#9a5a4a" />
<rect x="108.8" y="140.2" width="7.8" height="7.4" fill="none" stroke="#f0141e" stroke-width="1.3" rx="1.2" stroke-dasharray="1.8 1.1"/>
<line x1="108.4" y1="147.8" x2="91.8" y2="159" stroke="#f0141e" stroke-width="1.3" stroke-dasharray="2.2 1.4" />
<rect x="32" y="150.6" width="60.4" height="32.6" fill="#e2f3fa" />
<polygon points="36.4,169.4 37.6,168.4 88.8,160.6 88.8,163 46.8,181.6 45.6,181.2" fill="url(#plw)" />
<polygon points="36.4,164.3 45.5,163.9 88.7,158.5 88.8,161.6 64,173 48.4,176.6 37.2,167.4" fill="url(#plb)" />
<path d="M38.3,159.2 C42,159.8 45,161.0 48.5,161.3 C54,161.0 60,159.8 66,159.0 L88.7,157.0 L88.8,159.6 L73.0,162.3 C66,164.5 60,166.2 55.5,166.2 C49,165.0 43,162.6 39.6,160.8 Z" fill="url(#plg)" />
<text x="61.2" y="181.4" font-family="'Liberation Sans', sans-serif" font-size="7.2" font-weight="normal" fill="#3a3a3a" text-anchor="start"  textLength="27.7" lengthAdjust="spacingAndGlyphs">PL-TENG</text>
<rect x="14" y="202" width="4.2" height="4.6" fill="#fde1c6" />
<path d="M10.8,192 C10.5,198 12.5,204 16,205.3 C19.5,204.3 21.3,199 21,192 C20,189 12,189 10.8,192 Z" fill="#fde1c6" />
<ellipse cx="21.4" cy="198.5" rx="0.9" ry="1.6" fill="#fde1c6" />
<path d="M10.3,194.5 C9.8,189.5 13,187.6 16.5,187.7 C20,187.8 22,190 21.6,196 L20.8,196.5 C20.5,193 19.5,191 17,190.6 C14.5,190.3 12,191.2 11,194.5 Z" fill="#1f1f1f" />
<ellipse cx="13.6" cy="197.4" rx="1.2" ry="0.4" fill="#c7a590" />
<ellipse cx="18.4" cy="197.4" rx="1.2" ry="0.4" fill="#c7a590" />
<rect x="36.4" y="202" width="4.2" height="4.6" fill="#fde1c6" />
<path d="M33.2,192 C32.9,198 34.9,204 38.4,205.3 C41.9,204.3 43.7,199 43.4,192 C42.4,189 34.4,189 33.2,192 Z" fill="#fde1c6" />
<ellipse cx="43.8" cy="198.5" rx="0.9" ry="1.6" fill="#fde1c6" />
<path d="M32.7,194.5 C32.2,189.5 35.4,187.6 38.9,187.7 C42.4,187.8 44.4,190 44,196 L43.2,196.5 C42.9,193 41.9,191 39.4,190.6 C36.9,190.3 34.4,191.2 33.4,194.5 Z" fill="#1f1f1f" />
<ellipse cx="36" cy="197.4" rx="1.2" ry="0.4" fill="#c7a590" />
<ellipse cx="40.8" cy="197.4" rx="1.2" ry="0.4" fill="#c7a590" />
<rect x="59.2" y="202" width="4.2" height="4.6" fill="#fde1c6" />
<path d="M56,192 C55.7,198 57.7,204 61.2,205.3 C64.7,204.3 66.5,199 66.2,192 C65.2,189 57.2,189 56,192 Z" fill="#fde1c6" />
<ellipse cx="66.6" cy="198.5" rx="0.9" ry="1.6" fill="#fde1c6" />
<path d="M56.7,192.5 C57.2,188.5 60.2,187.6 62.7,187.7 C66.2,187.8 68.2,191 67.8,198 L66.7,201.5 C66.2,197 65.7,192 62.7,190.6 C60.2,190.2 58.2,190.8 56.7,192.5 Z" fill="#1f1f1f" />
<ellipse cx="58" cy="197.4" rx="0.9" ry="0.4" fill="#c7a590" />
<ellipse cx="61.8" cy="197.4" rx="1" ry="0.4" fill="#c7a590" />
<line x1="30.5" y1="198.5" x2="24.4" y2="198.5" stroke="#2a8fd6" stroke-width="1.0" />
<polygon points="24.5,197.2 24.5,199.8 22.8,198.5" fill="#2a8fd6" />
<line x1="45.1" y1="198.5" x2="51.1" y2="198.5" stroke="#2a8fd6" stroke-width="1.0" />
<polygon points="51,197.2 51,199.8 52.7,198.5" fill="#2a8fd6" />
<text x="21.6" y="205.3" font-family="'Liberation Sans', sans-serif" font-size="2.6" font-weight="normal" fill="#444" text-anchor="start"  textLength="9.8" lengthAdjust="spacingAndGlyphs">Turn left</text>
<text x="43.4" y="205.3" font-family="'Liberation Sans', sans-serif" font-size="2.6" font-weight="normal" fill="#444" text-anchor="start"  textLength="10.6" lengthAdjust="spacingAndGlyphs">Turn right</text>
<rect x="12.9" y="201.7" width="8" height="7.7" fill="none" stroke="#f0141e" stroke-width="1.3" stroke-dasharray="1.8 1.1"/>
<line x1="20.8" y1="201.5" x2="31.9" y2="173.5" stroke="#f0141e" stroke-width="1.3" stroke-dasharray="2.2 1.4" />
<path d="M80.8,190.2 L94.1,190 C94.6,196 93.8,202 91.8,206.8 L83.8,207.3 C81.3,203 80.3,196 80.8,190.2 Z" fill="#fbd8b4" />
<line x1="87.7" y1="190.5" x2="86.9" y2="206.5" stroke="#f0c49a" stroke-width="0.7" />
<circle cx="83.5" cy="203.5" r="0.5" fill="#c08a6a" />
<path d="M100.9,190.2 L114.2,190 C114.7,196 113.9,202 111.9,206.8 L103.9,207.3 C101.4,203 100.4,196 100.9,190.2 Z" fill="#fbd8b4" />
<line x1="107.8" y1="190.5" x2="107" y2="206.5" stroke="#f0c49a" stroke-width="0.7" />
<circle cx="103.6" cy="203.5" r="0.5" fill="#c08a6a" />
<path d="M119.0,200.0 C121,194 127,191.5 137.5,192.2 C137.8,197 134,203 127,206.8 L120.0,206.8 Z" fill="#fbd8b4" />
<line x1="122.5" y1="203" x2="134" y2="195" stroke="#f0c49a" stroke-width="0.7" />
<rect x="117.3" y="198.5" width="6.4" height="8.3" fill="none" stroke="#f0141e" stroke-width="1.3" stroke-dasharray="1.8 1.1"/>
<line x1="92.3" y1="171.7" x2="120" y2="197.5" stroke="#f0141e" stroke-width="1.3" stroke-dasharray="2.2 1.4" />
<text x="141.6" y="121" font-family="'Liberation Serif', serif" font-size="11.5" font-weight="bold" fill="#000" text-anchor="start" >e</text>
<rect x="159.2" y="113.9" width="55" height="44.7" fill="none" stroke="#555" stroke-width="0.6" />
<line x1="158" y1="114.2" x2="159.2" y2="114.2" stroke="#555" stroke-width="0.4" />
<text x="157.4" y="115.5" font-family="'Liberation Serif', serif" font-size="3.7" font-weight="normal" fill="#333" text-anchor="end" >2.0</text>
<line x1="158" y1="123.14" x2="159.2" y2="123.14" stroke="#555" stroke-width="0.4" />
<text x="157.4" y="124.44" font-family="'Liberation Serif', serif" font-size="3.7" font-weight="normal" fill="#333" text-anchor="end" >1.5</text>
<line x1="158" y1="132.08" x2="159.2" y2="132.08" stroke="#555" stroke-width="0.4" />
<text x="157.4" y="133.38" font-family="'Liberation Serif', serif" font-size="3.7" font-weight="normal" fill="#333" text-anchor="end" >1.0</text>
<line x1="158" y1="141.02" x2="159.2" y2="141.02" stroke="#555" stroke-width="0.4" />
<text x="157.4" y="142.32" font-family="'Liberation Serif', serif" font-size="3.7" font-weight="normal" fill="#333" text-anchor="end" >0.5</text>
<line x1="158" y1="149.96" x2="159.2" y2="149.96" stroke="#555" stroke-width="0.4" />
<text x="157.4" y="151.26" font-family="'Liberation Serif', serif" font-size="3.7" font-weight="normal" fill="#333" text-anchor="end" >0.0</text>
<line x1="158" y1="158.9" x2="159.2" y2="158.9" stroke="#555" stroke-width="0.4" />
<text x="157.4" y="160.2" font-family="'Liberation Serif', serif" font-size="3.7" font-weight="normal" fill="#333" text-anchor="end" >-0.5</text>
<line x1="159.4" y1="158.6" x2="159.4" y2="159.8" stroke="#555" stroke-width="0.4" />
<text x="159.4" y="162.8" font-family="'Liberation Serif', serif" font-size="3.7" font-weight="normal" fill="#333" text-anchor="middle" >0</text>
<line x1="167.9" y1="158.6" x2="167.9" y2="159.8" stroke="#555" stroke-width="0.4" />
<text x="167.9" y="162.8" font-family="'Liberation Serif', serif" font-size="3.7" font-weight="normal" fill="#333" text-anchor="middle" >2</text>
<line x1="176.4" y1="158.6" x2="176.4" y2="159.8" stroke="#555" stroke-width="0.4" />
<text x="176.4" y="162.8" font-family="'Liberation Serif', serif" font-size="3.7" font-weight="normal" fill="#333" text-anchor="middle" >4</text>
<line x1="184.9" y1="158.6" x2="184.9" y2="159.8" stroke="#555" stroke-width="0.4" />
<text x="184.9" y="162.8" font-family="'Liberation Serif', serif" font-size="3.7" font-weight="normal" fill="#333" text-anchor="middle" >6</text>
<line x1="193.4" y1="158.6" x2="193.4" y2="159.8" stroke="#555" stroke-width="0.4" />
<text x="193.4" y="162.8" font-family="'Liberation Serif', serif" font-size="3.7" font-weight="normal" fill="#333" text-anchor="middle" >8</text>
<line x1="201.9" y1="158.6" x2="201.9" y2="159.8" stroke="#555" stroke-width="0.4" />
<text x="201.9" y="162.8" font-family="'Liberation Serif', serif" font-size="3.7" font-weight="normal" fill="#333" text-anchor="middle" >10</text>
<line x1="210.4" y1="158.6" x2="210.4" y2="159.8" stroke="#555" stroke-width="0.4" />
<text x="210.4" y="162.8" font-family="'Liberation Serif', serif" font-size="3.7" font-weight="normal" fill="#333" text-anchor="middle" >12</text>
<text x="185.5" y="166.9" font-family="'Liberation Sans', sans-serif" font-size="4.3" font-weight="normal" fill="#222" text-anchor="middle"  textLength="17.7" lengthAdjust="spacingAndGlyphs">Frequency</text>
<text x="0" y="0" font-family="'Liberation Serif', serif" font-size="4.3" font-weight="normal" fill="#333" text-anchor="middle" transform="translate(151.6,136.4) rotate(-90)">Time (s)</text>
<polyline points="163.65,141.91 167.9,139.95 172.15,137.8 176.4,134.23 180.65,138.7 184.9,136.01 189.15,139.23 193.4,137.98 197.65,136.01 201.9,121.35 206.15,138.87 210.4,139.23" fill="none" stroke="#f0413f" stroke-width="0.6" stroke-linejoin="round"/>
<circle cx="163.65" cy="141.91" r="0.8" fill="#f0413f" />
<circle cx="167.9" cy="139.95" r="0.8" fill="#f0413f" />
<circle cx="172.15" cy="137.8" r="0.8" fill="#f0413f" />
<circle cx="176.4" cy="134.23" r="0.8" fill="#f0413f" />
<circle cx="180.65" cy="138.7" r="0.8" fill="#f0413f" />
<circle cx="184.9" cy="136.01" r="0.8" fill="#f0413f" />
<circle cx="189.15" cy="139.23" r="0.8" fill="#f0413f" />
<circle cx="193.4" cy="137.98" r="0.8" fill="#f0413f" />
<circle cx="197.65" cy="136.01" r="0.8" fill="#f0413f" />
<circle cx="201.9" cy="121.35" r="0.8" fill="#f0413f" />
<circle cx="206.15" cy="138.87" r="0.8" fill="#f0413f" />
<circle cx="210.4" cy="139.23" r="0.8" fill="#f0413f" />
<polyline points="163.65,146.74 167.9,146.38 172.15,147.46 176.4,147.81 180.65,146.03 184.9,146.03 189.15,146.92 193.4,147.1 197.65,146.92" fill="none" stroke="#2045c8" stroke-width="0.6" stroke-linejoin="round"/>
<polygon points="163.65,147.7 164.53,146.1 162.77,146.1" fill="#2045c8" />
<polygon points="167.9,147.34 168.78,145.74 167.02,145.74" fill="#2045c8" />
<polygon points="172.15,148.42 173.03,146.82 171.27,146.82" fill="#2045c8" />
<polygon points="176.4,148.77 177.28,147.17 175.52,147.17" fill="#2045c8" />
<polygon points="180.65,146.99 181.53,145.39 179.77,145.39" fill="#2045c8" />
<polygon points="184.9,146.99 185.78,145.39 184.02,145.39" fill="#2045c8" />
<polygon points="189.15,147.88 190.03,146.28 188.27,146.28" fill="#2045c8" />
<polygon points="193.4,148.06 194.28,146.46 192.52,146.46" fill="#2045c8" />
<polygon points="197.65,147.88 198.53,146.28 196.77,146.28" fill="#2045c8" />
<line x1="161.6" y1="118" x2="169.4" y2="118" stroke="#2045c8" stroke-width="0.6" />
<polygon points="165.5,118.96 166.38,117.36 164.62,117.36" fill="#2045c8" />
<text x="170.4" y="119.4" font-family="'Liberation Serif', serif" font-size="3.7" font-weight="normal" fill="#333" text-anchor="start" >Normal state</text>
<line x1="161.6" y1="122.7" x2="169.4" y2="122.7" stroke="#f0413f" stroke-width="0.6" />
<circle cx="165.5" cy="122.7" r="0.8" fill="#f0413f" />
<text x="170.4" y="124.1" font-family="'Liberation Serif', serif" font-size="3.7" font-weight="normal" fill="#333" text-anchor="start" >Fatigue state</text>
<text x="161.2" y="153.2" font-family="'Liberation Serif', serif" font-size="3.7" fill="#333">BD in <tspan fill="#2045c8">normal</tspan> state: 0.18 s</text>
<text x="161.2" y="157.0" font-family="'Liberation Serif', serif" font-size="3.7" fill="#333">BD in <tspan fill="#f0413f">fatigue</tspan> state: 0.74 s</text>
<text x="217.3" y="119.8" font-family="'Liberation Serif', serif" font-size="11.5" font-weight="bold" fill="#000" text-anchor="start" >f</text>
<rect x="230" y="113.9" width="55" height="44.7" fill="none" stroke="#555" stroke-width="0.6" />
<line x1="228.8" y1="158.9" x2="230" y2="158.9" stroke="#555" stroke-width="0.4" />
<text x="228.2" y="160.2" font-family="'Liberation Sans', sans-serif" font-size="3.5" font-weight="normal" fill="#333" text-anchor="end" >-2</text>
<line x1="228.8" y1="152.51" x2="230" y2="152.51" stroke="#555" stroke-width="0.4" />
<text x="228.2" y="153.81" font-family="'Liberation Sans', sans-serif" font-size="3.5" font-weight="normal" fill="#333" text-anchor="end" >0</text>
<line x1="228.8" y1="146.13" x2="230" y2="146.13" stroke="#555" stroke-width="0.4" />
<text x="228.2" y="147.43" font-family="'Liberation Sans', sans-serif" font-size="3.5" font-weight="normal" fill="#333" text-anchor="end" >2</text>
<line x1="228.8" y1="139.74" x2="230" y2="139.74" stroke="#555" stroke-width="0.4" />
<text x="228.2" y="141.04" font-family="'Liberation Sans', sans-serif" font-size="3.5" font-weight="normal" fill="#333" text-anchor="end" >4</text>
<line x1="228.8" y1="133.36" x2="230" y2="133.36" stroke="#555" stroke-width="0.4" />
<text x="228.2" y="134.66" font-family="'Liberation Sans', sans-serif" font-size="3.5" font-weight="normal" fill="#333" text-anchor="end" >6</text>
<line x1="228.8" y1="126.97" x2="230" y2="126.97" stroke="#555" stroke-width="0.4" />
<text x="228.2" y="128.27" font-family="'Liberation Sans', sans-serif" font-size="3.5" font-weight="normal" fill="#333" text-anchor="end" >8</text>
<line x1="228.8" y1="120.59" x2="230" y2="120.59" stroke="#555" stroke-width="0.4" />
<text x="228.2" y="121.89" font-family="'Liberation Sans', sans-serif" font-size="3.5" font-weight="normal" fill="#333" text-anchor="end" >10</text>
<line x1="228.8" y1="114.2" x2="230" y2="114.2" stroke="#555" stroke-width="0.4" />
<text x="228.2" y="115.5" font-family="'Liberation Sans', sans-serif" font-size="3.5" font-weight="normal" fill="#333" text-anchor="end" >12</text>
<line x1="230" y1="158.6" x2="230" y2="159.8" stroke="#555" stroke-width="0.4" />
<text x="230" y="162.8" font-family="'Liberation Sans', sans-serif" font-size="3.5" font-weight="normal" fill="#333" text-anchor="middle" >0</text>
<line x1="239.1" y1="158.6" x2="239.1" y2="159.8" stroke="#555" stroke-width="0.4" />
<text x="239.1" y="162.8" font-family="'Liberation Sans', sans-serif" font-size="3.5" font-weight="normal" fill="#333" text-anchor="middle" >2</text>
<line x1="248.2" y1="158.6" x2="248.2" y2="159.8" stroke="#555" stroke-width="0.4" />
<text x="248.2" y="162.8" font-family="'Liberation Sans', sans-serif" font-size="3.5" font-weight="normal" fill="#333" text-anchor="middle" >4</text>
<line x1="257.3" y1="158.6" x2="257.3" y2="159.8" stroke="#555" stroke-width="0.4" />
<text x="257.3" y="162.8" font-family="'Liberation Sans', sans-serif" font-size="3.5" font-weight="normal" fill="#333" text-anchor="middle" >6</text>
<line x1="266.4" y1="158.6" x2="266.4" y2="159.8" stroke="#555" stroke-width="0.4" />
<text x="266.4" y="162.8" font-family="'Liberation Sans', sans-serif" font-size="3.5" font-weight="normal" fill="#333" text-anchor="middle" >8</text>
<line x1="275.5" y1="158.6" x2="275.5" y2="159.8" stroke="#555" stroke-width="0.4" />
<text x="275.5" y="162.8" font-family="'Liberation Sans', sans-serif" font-size="3.5" font-weight="normal" fill="#333" text-anchor="middle" >10</text>
<line x1="284.6" y1="158.6" x2="284.6" y2="159.8" stroke="#555" stroke-width="0.4" />
<text x="284.6" y="162.8" font-family="'Liberation Sans', sans-serif" font-size="3.5" font-weight="normal" fill="#333" text-anchor="middle" >12</text>
<text x="256.6" y="166.9" font-family="'Liberation Sans', sans-serif" font-size="4.3" font-weight="normal" fill="#222" text-anchor="middle"  textLength="17.7" lengthAdjust="spacingAndGlyphs">Frequency</text>
<text x="0" y="0" font-family="'Liberation Sans', sans-serif" font-size="4.0" font-weight="normal" fill="#333" text-anchor="middle" transform="translate(225.2,136.4) rotate(-90)">Time (s)</text>
<polyline points="234.55,144.85 239.1,140.38 243.65,138.78 248.2,142.3 252.75,139.42 257.3,139.74 261.85,135.91 266.4,139.1 270.95,134.95 275.5,141.66 280.05,133.04" fill="none" stroke="#f0413f" stroke-width="0.6" stroke-linejoin="round"/>
<circle cx="234.55" cy="144.85" r="0.8" fill="#f0413f" />
<circle cx="239.1" cy="140.38" r="0.8" fill="#f0413f" />
<circle cx="243.65" cy="138.78" r="0.8" fill="#f0413f" />
<circle cx="248.2" cy="142.3" r="0.8" fill="#f0413f" />
<circle cx="252.75" cy="139.42" r="0.8" fill="#f0413f" />
<circle cx="257.3" cy="139.74" r="0.8" fill="#f0413f" />
<circle cx="261.85" cy="135.91" r="0.8" fill="#f0413f" />
<circle cx="266.4" cy="139.1" r="0.8" fill="#f0413f" />
<circle cx="270.95" cy="134.95" r="0.8" fill="#f0413f" />
<circle cx="275.5" cy="141.66" r="0.8" fill="#f0413f" />
<circle cx="280.05" cy="133.04" r="0.8" fill="#f0413f" />
<polyline points="234.55,134 239.1,129.84 243.65,143.57 248.2,120.59 252.75,129.53 257.3,130.16 261.85,134.95 266.4,132.08" fill="none" stroke="#2045c8" stroke-width="0.6" stroke-linejoin="round"/>
<rect x="233.85" y="133.3" width="1.4" height="1.4" fill="#2045c8" />
<rect x="238.4" y="129.15" width="1.4" height="1.4" fill="#2045c8" />
<rect x="242.95" y="142.87" width="1.4" height="1.4" fill="#2045c8" />
<rect x="247.5" y="119.89" width="1.4" height="1.4" fill="#2045c8" />
<rect x="252.05" y="128.83" width="1.4" height="1.4" fill="#2045c8" />
<rect x="256.6" y="129.46" width="1.4" height="1.4" fill="#2045c8" />
<rect x="261.15" y="134.25" width="1.4" height="1.4" fill="#2045c8" />
<rect x="265.7" y="131.38" width="1.4" height="1.4" fill="#2045c8" />
<line x1="255.4" y1="118.7" x2="263" y2="118.7" stroke="#2045c8" stroke-width="0.6" />
<rect x="258.5" y="118" width="1.4" height="1.4" fill="#2045c8" />
<text x="264.4" y="120" font-family="'Liberation Sans', sans-serif" font-size="3.5" font-weight="normal" fill="#333" text-anchor="start"  textLength="18" lengthAdjust="spacingAndGlyphs">Normal state</text>
<line x1="255.4" y1="123" x2="263" y2="123" stroke="#f0413f" stroke-width="0.6" />
<circle cx="259.2" cy="123" r="0.8" fill="#f0413f" />
<text x="264.4" y="124.3" font-family="'Liberation Sans', sans-serif" font-size="3.5" font-weight="normal" fill="#333" text-anchor="start"  textLength="18" lengthAdjust="spacingAndGlyphs">Fatigue state</text>
<text x="231.6" y="152.4" font-family="'Liberation Sans', sans-serif" font-size="3.5" fill="#333">BID in <tspan fill="#2045c8">normal</tspan> state: 7.4 s</text>
<text x="231.6" y="157.0" font-family="'Liberation Sans', sans-serif" font-size="3.5" fill="#333">BID in <tspan fill="#f0413f">fatigue</tspan> state: 4.2 s</text>
<text x="142.6" y="167.5" font-family="'Liberation Serif', serif" font-size="11.5" font-weight="bold" fill="#000" text-anchor="start" >g</text>
<rect x="159" y="170.6" width="55.2" height="43.7" fill="none" stroke="#555" stroke-width="0.6" />
<line x1="157.8" y1="212.1" x2="159" y2="212.1" stroke="#555" stroke-width="0.4" />
<text x="157.2" y="213.4" font-family="'Liberation Sans', sans-serif" font-size="3.7" font-weight="normal" fill="#333" text-anchor="end" >0.0</text>
<line x1="157.8" y1="203.84" x2="159" y2="203.84" stroke="#555" stroke-width="0.4" />
<text x="157.2" y="205.14" font-family="'Liberation Sans', sans-serif" font-size="3.7" font-weight="normal" fill="#333" text-anchor="end" >0.2</text>
<line x1="157.8" y1="195.58" x2="159" y2="195.58" stroke="#555" stroke-width="0.4" />
<text x="157.2" y="196.88" font-family="'Liberation Sans', sans-serif" font-size="3.7" font-weight="normal" fill="#333" text-anchor="end" >0.4</text>
<line x1="157.8" y1="187.32" x2="159" y2="187.32" stroke="#555" stroke-width="0.4" />
<text x="157.2" y="188.62" font-family="'Liberation Sans', sans-serif" font-size="3.7" font-weight="normal" fill="#333" text-anchor="end" >0.6</text>
<line x1="157.8" y1="179.06" x2="159" y2="179.06" stroke="#555" stroke-width="0.4" />
<text x="157.2" y="180.36" font-family="'Liberation Sans', sans-serif" font-size="3.7" font-weight="normal" fill="#333" text-anchor="end" >0.8</text>
<line x1="157.8" y1="170.8" x2="159" y2="170.8" stroke="#555" stroke-width="0.4" />
<text x="157.2" y="172.1" font-family="'Liberation Sans', sans-serif" font-size="3.7" font-weight="normal" fill="#333" text-anchor="end" >1.0</text>
<line x1="163.5" y1="214.3" x2="163.5" y2="215.5" stroke="#555" stroke-width="0.4" />
<text x="163.5" y="218.6" font-family="'Liberation Sans', sans-serif" font-size="3.7" font-weight="normal" fill="#333" text-anchor="middle" >0</text>
<line x1="171.32" y1="214.3" x2="171.32" y2="215.5" stroke="#555" stroke-width="0.4" />
<text x="171.32" y="218.6" font-family="'Liberation Sans', sans-serif" font-size="3.7" font-weight="normal" fill="#333" text-anchor="middle" >10</text>
<line x1="179.13" y1="214.3" x2="179.13" y2="215.5" stroke="#555" stroke-width="0.4" />
<text x="179.13" y="218.6" font-family="'Liberation Sans', sans-serif" font-size="3.7" font-weight="normal" fill="#333" text-anchor="middle" >20</text>
<line x1="186.95" y1="214.3" x2="186.95" y2="215.5" stroke="#555" stroke-width="0.4" />
<text x="186.95" y="218.6" font-family="'Liberation Sans', sans-serif" font-size="3.7" font-weight="normal" fill="#333" text-anchor="middle" >30</text>
<line x1="194.77" y1="214.3" x2="194.77" y2="215.5" stroke="#555" stroke-width="0.4" />
<text x="194.77" y="218.6" font-family="'Liberation Sans', sans-serif" font-size="3.7" font-weight="normal" fill="#333" text-anchor="middle" >40</text>
<line x1="202.58" y1="214.3" x2="202.58" y2="215.5" stroke="#555" stroke-width="0.4" />
<text x="202.58" y="218.6" font-family="'Liberation Sans', sans-serif" font-size="3.7" font-weight="normal" fill="#333" text-anchor="middle" >50</text>
<line x1="210.4" y1="214.3" x2="210.4" y2="215.5" stroke="#555" stroke-width="0.4" />
<text x="210.4" y="218.6" font-family="'Liberation Sans', sans-serif" font-size="3.7" font-weight="normal" fill="#333" text-anchor="middle" >60</text>
<text x="187" y="222.9" font-family="'Liberation Sans', sans-serif" font-size="4.6" font-weight="normal" fill="#222" text-anchor="middle" >Time(s)</text>
<text x="0" y="0" font-family="'Liberation Sans', sans-serif" font-size="4.3" font-weight="normal" fill="#333" text-anchor="middle" transform="translate(150.8,192.0) rotate(-90)">Voltage(V)</text>
<polyline points="163.5,211.27 165.22,211.27 165.53,199.71 165.84,189.38 166.63,188.15 167.8,187.32 168.97,186.08 169.6,187.32 170.07,211.27 180.31,211.27 180.77,199.71 181.24,191.45 182.26,189.38 183.43,188.15 184.21,187.32 184.76,189.38 185.86,190.62 186.4,211.27 199.85,211.27 200.32,199.71 201.02,197.65 202.19,193.51 202.66,189.38 203.05,199.71 203.52,211.27 210.4,211.27" fill="none" stroke="#279a58" stroke-width="1.1" stroke-linejoin="round"/>
<rect x="177.8" y="184.4" width="11.6" height="28.9" fill="none" stroke="#ee1111" stroke-width="2.0" stroke-dasharray="3.4 1.7"/>
<line x1="189.8" y1="184.6" x2="217.8" y2="178.3" stroke="#f04545" stroke-width="0.5" />
<polygon points="219.8,177.9 216.6,176.6 217.3,179.9" fill="#f04545" />
<text x="216.2" y="171" font-family="'Liberation Serif', serif" font-size="11.5" font-weight="bold" fill="#000" text-anchor="start" >h</text>
<rect x="230.8" y="170.2" width="54.5" height="44.2" fill="none" stroke="#555" stroke-width="0.6" />
<line x1="229.6" y1="211.6" x2="230.8" y2="211.6" stroke="#555" stroke-width="0.4" />
<text x="229" y="212.9" font-family="'Liberation Serif', serif" font-size="3.7" font-weight="normal" fill="#333" text-anchor="end" >0.0</text>
<line x1="229.6" y1="201.4" x2="230.8" y2="201.4" stroke="#555" stroke-width="0.4" />
<text x="229" y="202.7" font-family="'Liberation Serif', serif" font-size="3.7" font-weight="normal" fill="#333" text-anchor="end" >0.2</text>
<line x1="229.6" y1="191.2" x2="230.8" y2="191.2" stroke="#555" stroke-width="0.4" />
<text x="229" y="192.5" font-family="'Liberation Serif', serif" font-size="3.7" font-weight="normal" fill="#333" text-anchor="end" >0.4</text>
<line x1="229.6" y1="181" x2="230.8" y2="181" stroke="#555" stroke-width="0.4" />
<text x="229" y="182.3" font-family="'Liberation Serif', serif" font-size="3.7" font-weight="normal" fill="#333" text-anchor="end" >0.6</text>
<line x1="229.6" y1="170.8" x2="230.8" y2="170.8" stroke="#555" stroke-width="0.4" />
<text x="229" y="172.1" font-family="'Liberation Serif', serif" font-size="3.7" font-weight="normal" fill="#333" text-anchor="end" >0.8</text>
<line x1="234.7" y1="214.4" x2="234.7" y2="215.6" stroke="#555" stroke-width="0.4" />
<text x="234.7" y="219" font-family="'Liberation Serif', serif" font-size="3.7" font-weight="normal" fill="#333" text-anchor="middle" >20</text>
<line x1="243.9" y1="214.4" x2="243.9" y2="215.6" stroke="#555" stroke-width="0.4" />
<text x="243.9" y="219" font-family="'Liberation Serif', serif" font-size="3.7" font-weight="normal" fill="#333" text-anchor="middle" >22</text>
<line x1="253.1" y1="214.4" x2="253.1" y2="215.6" stroke="#555" stroke-width="0.4" />
<text x="253.1" y="219" font-family="'Liberation Serif', serif" font-size="3.7" font-weight="normal" fill="#333" text-anchor="middle" >24</text>
<line x1="262.3" y1="214.4" x2="262.3" y2="215.6" stroke="#555" stroke-width="0.4" />
<text x="262.3" y="219" font-family="'Liberation Serif', serif" font-size="3.7" font-weight="normal" fill="#333" text-anchor="middle" >26</text>
<line x1="271.5" y1="214.4" x2="271.5" y2="215.6" stroke="#555" stroke-width="0.4" />
<text x="271.5" y="219" font-family="'Liberation Serif', serif" font-size="3.7" font-weight="normal" fill="#333" text-anchor="middle" >28</text>
<line x1="280.7" y1="214.4" x2="280.7" y2="215.6" stroke="#555" stroke-width="0.4" />
<text x="280.7" y="219" font-family="'Liberation Serif', serif" font-size="3.7" font-weight="normal" fill="#333" text-anchor="middle" >30</text>
<text x="258.9" y="222.6" font-family="'Liberation Serif', serif" font-size="4.3" font-weight="normal" fill="#333" text-anchor="middle" >Time (s)</text>
<text x="0" y="0" font-family="'Liberation Serif', serif" font-size="4.3" font-weight="normal" fill="#333" text-anchor="middle" transform="translate(222.6,191.4) rotate(-90)">Voltage (V)</text>
<polyline points="234.7,210.58 243.9,210.58 245.28,194.77 248.04,191.2 250.34,187.63 253.1,186.1 255.86,185.08 258.62,183.55 262.3,183.04 265.98,182.02 267.82,181 269.2,181 269.66,184.57 271.5,184.06 274.26,185.08 275.18,210.58 280.7,210.58" fill="none" stroke="#f47070" stroke-width="0.9" stroke-linejoin="round"/>
<text x="293.6" y="123.8" font-family="'Liberation Serif', serif" font-size="11.5" font-weight="bold" fill="#000" text-anchor="start" >i</text>
<rect x="295.2" y="129.3" width="49.4" height="26.2" fill="#fff" stroke="#ef5f5c" stroke-width="0.9" />
<text x="302.3" y="134.6" font-family="'Liberation Sans', sans-serif" font-size="5.0" font-weight="normal" fill="#333" text-anchor="start"  textLength="37.5" lengthAdjust="spacingAndGlyphs">Threshold setting:</text>
<text x="302.3" y="139.9" font-family="'Liberation Sans', sans-serif" font-size="5.0" font-weight="normal" fill="#333" text-anchor="start"  textLength="22" lengthAdjust="spacingAndGlyphs">BD·········2s</text>
<text x="302.3" y="145" font-family="'Liberation Sans', sans-serif" font-size="5.0" font-weight="normal" fill="#333" text-anchor="start"  textLength="23" lengthAdjust="spacingAndGlyphs">BID·········6s</text>
<text x="302.3" y="150.1" font-family="'Liberation Sans', sans-serif" font-size="5.0" font-weight="normal" fill="#333" text-anchor="start"  textLength="36.4" lengthAdjust="spacingAndGlyphs">PERCLOS···1.2×10</text>
<text x="339" y="148" font-family="'Liberation Sans', sans-serif" font-size="2.8" font-weight="normal" fill="#333" text-anchor="start" >-3</text>
<text x="302.3" y="155.2" font-family="'Liberation Sans', sans-serif" font-size="5.0" font-weight="normal" fill="#333" text-anchor="start"  textLength="22" lengthAdjust="spacingAndGlyphs">YD·········2</text>
<rect x="295.65" y="155" width="48.5" height="1.2" fill="#fff" />
<line x1="295.2" y1="155.5" x2="344.6" y2="155.5" stroke="#ef5f5c" stroke-width="0.9" />
<ellipse cx="316.7" cy="166.3" rx="18.7" ry="9" fill="#fff" stroke="#1a9fd9" stroke-width="1.5" />
<text x="306.6" y="165.3" font-family="'Liberation Sans', sans-serif" font-size="5.2" font-weight="normal" fill="#222" text-anchor="start" stroke="#222" stroke-width="0.2" textLength="17" lengthAdjust="spacingAndGlyphs">BD, BID,</text>
<text x="306.6" y="170.6" font-family="'Liberation Sans', sans-serif" font-size="5.2" font-weight="normal" fill="#222" text-anchor="start" stroke="#222" stroke-width="0.2" textLength="22.8" lengthAdjust="spacingAndGlyphs">PECLOS,YF</text>
<line x1="335.5" y1="166.3" x2="345.8" y2="166.3" stroke="#f5a3a3" stroke-width="0.7" />
<ellipse cx="364.5" cy="166.5" rx="18.7" ry="8.5" fill="#fff" stroke="#1a9fd9" stroke-width="1.5" />
<text x="350.2" y="166" font-family="'Liberation Sans', sans-serif" font-size="5.2" font-weight="normal" fill="#222" text-anchor="start" stroke="#222" stroke-width="0.2" textLength="29.5" lengthAdjust="spacingAndGlyphs">Fatigue driving</text>
<text x="350.2" y="171.1" font-family="'Liberation Sans', sans-serif" font-size="5.2" font-weight="normal" fill="#222" text-anchor="start" stroke="#222" stroke-width="0.2" textLength="21" lengthAdjust="spacingAndGlyphs">monitoring</text>
<line x1="383.2" y1="166.3" x2="389.6" y2="166.3" stroke="#f5a3a3" stroke-width="0.7" />
<line x1="389.6" y1="134.3" x2="389.6" y2="197.4" stroke="#f5a3a3" stroke-width="0.7" />
<line x1="389.6" y1="134.4" x2="414.6" y2="134.4" stroke="#f5a3a3" stroke-width="0.7" />
<line x1="389.6" y1="150.2" x2="414.6" y2="150.2" stroke="#f5a3a3" stroke-width="0.7" />
<line x1="389.6" y1="166.3" x2="414.6" y2="166.3" stroke="#f5a3a3" stroke-width="0.7" />
<line x1="389.6" y1="181.4" x2="414.6" y2="181.4" stroke="#f5a3a3" stroke-width="0.7" />
<line x1="389.6" y1="197.3" x2="414.6" y2="197.3" stroke="#f5a3a3" stroke-width="0.7" />
<text x="417" y="133.6" font-family="'Liberation Sans', sans-serif" font-size="5.3" font-weight="normal" fill="#3a3a3a" text-anchor="start"  textLength="53.5" lengthAdjust="spacingAndGlyphs">all parameters exceed the</text>
<text x="417" y="139" font-family="'Liberation Sans', sans-serif" font-size="5.3" font-weight="normal" fill="#3a3a3a" text-anchor="start"  textLength="52.22" lengthAdjust="spacingAndGlyphs">corresponding thresholds</text>
<text x="417" y="149.8" font-family="'Liberation Sans', sans-serif" font-size="5.3" font-weight="normal" fill="#3a3a3a" text-anchor="start"  textLength="73.15" lengthAdjust="spacingAndGlyphs">two of the three parameters exceed</text>
<text x="417" y="155" font-family="'Liberation Sans', sans-serif" font-size="5.3" font-weight="normal" fill="#3a3a3a" text-anchor="start"  textLength="59.97" lengthAdjust="spacingAndGlyphs">the corresponding thresholds</text>
<text x="417" y="166.6" font-family="'Liberation Sans', sans-serif" font-size="5.3" font-weight="normal" fill="#3a3a3a" text-anchor="start"  textLength="64.11" lengthAdjust="spacingAndGlyphs">only one parameter exceed the</text>
<text x="417" y="171.8" font-family="'Liberation Sans', sans-serif" font-size="5.3" font-weight="normal" fill="#3a3a3a" text-anchor="start"  textLength="49.89" lengthAdjust="spacingAndGlyphs">corresponding threshold</text>
<text x="417" y="181.6" font-family="'Liberation Sans', sans-serif" font-size="5.3" font-weight="normal" fill="#3a3a3a" text-anchor="start"  textLength="67.72" lengthAdjust="spacingAndGlyphs">all parameters do not exceed the</text>
<text x="417" y="186.8" font-family="'Liberation Sans', sans-serif" font-size="5.3" font-weight="normal" fill="#3a3a3a" text-anchor="start"  textLength="49.89" lengthAdjust="spacingAndGlyphs">corresponding threshold</text>
<line x1="475.4" y1="134.1" x2="502" y2="134.1" stroke="#222" stroke-width="0.8" />
<polygon points="504,134.1 501,132.6 501,135.6" fill="#222" />
<text x="506.4" y="135.9" font-family="'Liberation Sans', sans-serif" font-size="5.4" font-weight="normal" fill="#ee4a4a" text-anchor="start"  textLength="33.27" lengthAdjust="spacingAndGlyphs">Extreme fatigue</text>
<line x1="492" y1="150" x2="502" y2="150" stroke="#222" stroke-width="0.8" />
<polygon points="504,150 501,148.5 501,151.5" fill="#222" />
<text x="506.4" y="151.8" font-family="'Liberation Sans', sans-serif" font-size="5.4" font-weight="normal" fill="#f39090" text-anchor="start"  textLength="35.65" lengthAdjust="spacingAndGlyphs">Moderate fatigue</text>
<line x1="486.2" y1="167.3" x2="502" y2="167.3" stroke="#222" stroke-width="0.8" />
<polygon points="504,167.3 501,165.8 501,168.8" fill="#222" />
<text x="506.4" y="169.1" font-family="'Liberation Sans', sans-serif" font-size="5.4" font-weight="normal" fill="#f2c12e" text-anchor="start"  textLength="24.29" lengthAdjust="spacingAndGlyphs">Mild fatigue</text>
<line x1="485.8" y1="182.5" x2="502" y2="182.5" stroke="#222" stroke-width="0.8" />
<polygon points="504,182.5 501,181 501,184" fill="#222" />
<text x="506.4" y="184.3" font-family="'Liberation Sans', sans-serif" font-size="5.4" font-weight="bold" fill="#0aa596" text-anchor="start"  textLength="22.4" lengthAdjust="spacingAndGlyphs">No fatigue</text>
<text x="417" y="199.8" font-family="'Liberation Sans', sans-serif" font-size="5.3" font-weight="normal" fill="#3a3a3a" text-anchor="start"  textLength="42.6" lengthAdjust="spacingAndGlyphs">BD is greater than 2s</text>
<line x1="469.8" y1="198.1" x2="502" y2="198.1" stroke="#222" stroke-width="0.8" />
<polygon points="504,198.1 501,196.6 501,199.6" fill="#222" />
<text x="507.2" y="199.9" font-family="'Liberation Sans', sans-serif" font-size="5.4" font-weight="normal" fill="#444" text-anchor="start"  textLength="14" lengthAdjust="spacingAndGlyphs">Buzzer</text>
<text x="6" y="240" font-family="'Liberation Serif', serif" font-size="11.5" font-weight="bold" fill="#000" text-anchor="start" >j</text>
<polygon points="14.4,244.6 47,244.2 64.8,250.4 63.8,251.4 58,252 33,252.4 14.4,245.2" fill="#8ec1f0" />
<polyline points="14.4,244.6 47,244.2 64.8,250.4" fill="none" stroke="#5a8fcc" stroke-width="0.7" />
<circle cx="29.5" cy="252.2" r="1.2" fill="#8ec1f0" />
<circle cx="33.3" cy="252.2" r="1.2" fill="#8ec1f0" />
<circle cx="37.1" cy="252.2" r="1.2" fill="#8ec1f0" />
<circle cx="40.9" cy="252.2" r="1.2" fill="#8ec1f0" />
<circle cx="44.7" cy="252.2" r="1.2" fill="#8ec1f0" />
<circle cx="48.5" cy="252.2" r="1.2" fill="#8ec1f0" />
<circle cx="52.3" cy="252.2" r="1.2" fill="#8ec1f0" />
<circle cx="56.1" cy="252.2" r="1.2" fill="#8ec1f0" />
<circle cx="22" cy="247.2" r="1.1" fill="#a6cdf3" />
<circle cx="27.5" cy="249" r="1.1" fill="#a6cdf3" />
<circle cx="33" cy="247.2" r="1.1" fill="#a6cdf3" />
<circle cx="38.5" cy="249" r="1.1" fill="#a6cdf3" />
<circle cx="44" cy="247.2" r="1.1" fill="#a6cdf3" />
<circle cx="49.5" cy="249" r="1.1" fill="#a6cdf3" />
<circle cx="55" cy="247.2" r="1.1" fill="#a6cdf3" />
<polygon points="14.6,239.7 47.2,239.3 65.6,245.4 64,246.4 48.3,243.7 23.8,243.8" fill="#f7a600" />
<polyline points="14.6,239.7 47.2,239.3 65.6,245.4" fill="none" stroke="#c77f00" stroke-width="0.7" />
<polygon points="14.6,234.8 47,234.2 65.6,240.4 64.3,241.3 47.7,238.4 24.2,238.8" fill="#f0907a" />
<polyline points="14.6,234.8 47,234.2 65.6,240.4" fill="none" stroke="#c8604a" stroke-width="0.7" />
<polygon points="13.1,273.4 47,273 63.5,278.4 62,279.6 55,279.8 30,279.8" fill="#f0907a" />
<polyline points="13.1,273.4 47,273 63.5,278.4" fill="none" stroke="#c8604a" stroke-width="0.7" />
<polygon points="13.1,268 47,267.6 63.9,273.8 63,274.6 47.5,272.6 20.8,272.6" fill="#f7a600" />
<polyline points="13.1,268 47,267.6 63.9,273.8" fill="none" stroke="#c77f00" stroke-width="0.7" />
<polygon points="13.1,262.8 47,262.4 63.9,268.4 63,269.4 47.5,267.2 22.5,267.2" fill="#f9eb8e" />
<polyline points="13.1,262.8 47,262.4 63.9,268.4" fill="none" stroke="#b9a94e" stroke-width="0.7" />
<rect x="60.4" y="247.4" width="6.3" height="4" fill="none" stroke="#f27a8a" stroke-width="0.5" rx="1" />
<line x1="66.7" y1="249" x2="71.8" y2="247.5" stroke="#f27a8a" stroke-width="0.5" />
<rect x="59" y="265.8" width="6.4" height="4.2" fill="none" stroke="#f27a8a" stroke-width="0.5" rx="1" />
<line x1="65.4" y1="268" x2="71.8" y2="270" stroke="#f27a8a" stroke-width="0.5" />
<polygon points="71.8,242.5 76,239 101.5,239 101.5,248.5 97.5,252.3 71.8,252.3" fill="url(#pdm)" />
<polygon points="71.8,242.5 76,239 101.5,239 97.5,242.5" fill="#dbe5f0" />
<polygon points="97.5,242.5 101.5,239 101.5,248.5 97.5,252.3" fill="#9fb3c8" />
<circle cx="80.77" cy="244.25" r="0.35" fill="#7f9bb8" />
<circle cx="88.62" cy="243.86" r="0.35" fill="#7f9bb8" />
<circle cx="85.86" cy="245.33" r="0.35" fill="#7f9bb8" />
<circle cx="74.39" cy="246.04" r="0.35" fill="#7f9bb8" />
<circle cx="73.9" cy="245.67" r="0.35" fill="#7f9bb8" />
<circle cx="74.68" cy="243.95" r="0.35" fill="#7f9bb8" />
<circle cx="83.19" cy="247.63" r="0.35" fill="#7f9bb8" />
<circle cx="75.97" cy="244.62" r="0.35" fill="#7f9bb8" />
<circle cx="88.06" cy="248.24" r="0.35" fill="#7f9bb8" />
<circle cx="86.85" cy="245.48" r="0.35" fill="#7f9bb8" />
<circle cx="96.43" cy="243.73" r="0.35" fill="#7f9bb8" />
<circle cx="93.6" cy="244.95" r="0.35" fill="#7f9bb8" />
<circle cx="76.46" cy="244.09" r="0.35" fill="#7f9bb8" />
<circle cx="80.4" cy="247.58" r="0.35" fill="#7f9bb8" />
<circle cx="77.34" cy="246.41" r="0.35" fill="#7f9bb8" />
<circle cx="88.33" cy="245.36" r="0.35" fill="#7f9bb8" />
<circle cx="86.15" cy="243.81" r="0.35" fill="#7f9bb8" />
<circle cx="74.43" cy="244.53" r="0.35" fill="#7f9bb8" />
<circle cx="89.33" cy="245.64" r="0.35" fill="#7f9bb8" />
<circle cx="80.54" cy="246.43" r="0.35" fill="#7f9bb8" />
<circle cx="83.88" cy="245" r="0.35" fill="#7f9bb8" />
<circle cx="92.07" cy="246.99" r="0.35" fill="#7f9bb8" />
<circle cx="78.86" cy="246.37" r="0.35" fill="#7f9bb8" />
<circle cx="85.6" cy="247.88" r="0.35" fill="#7f9bb8" />
<circle cx="90.51" cy="244.94" r="0.35" fill="#7f9bb8" />
<circle cx="96.52" cy="244.09" r="0.35" fill="#7f9bb8" />
<circle cx="83.03" cy="247.29" r="0.35" fill="#7f9bb8" />
<circle cx="76.65" cy="245.94" r="0.35" fill="#7f9bb8" />
<circle cx="73.94" cy="246.84" r="0.35" fill="#7f9bb8" />
<circle cx="91.35" cy="246.37" r="0.35" fill="#7f9bb8" />
<circle cx="73.5" cy="249.8" r="1.05" fill="#2f7398" />
<circle cx="74.9" cy="251.5" r="1.05" fill="#2f7398" />
<circle cx="76.4" cy="249.8" r="1.05" fill="#2f7398" />
<circle cx="77.8" cy="251.5" r="1.05" fill="#2f7398" />
<circle cx="79.3" cy="249.8" r="1.05" fill="#2f7398" />
<circle cx="80.7" cy="251.5" r="1.05" fill="#2f7398" />
<circle cx="82.2" cy="249.8" r="1.05" fill="#2f7398" />
<circle cx="83.6" cy="251.5" r="1.05" fill="#2f7398" />
<circle cx="85.1" cy="249.8" r="1.05" fill="#2f7398" />
<circle cx="86.5" cy="251.5" r="1.05" fill="#2f7398" />
<circle cx="88" cy="249.8" r="1.05" fill="#2f7398" />
<circle cx="89.4" cy="251.5" r="1.05" fill="#2f7398" />
<circle cx="90.9" cy="249.8" r="1.05" fill="#2f7398" />
<circle cx="92.3" cy="251.5" r="1.05" fill="#2f7398" />
<circle cx="93.8" cy="249.8" r="1.05" fill="#2f7398" />
<circle cx="95.2" cy="251.5" r="1.05" fill="#2f7398" />
<circle cx="96.7" cy="249.8" r="1.05" fill="#2f7398" />
<circle cx="98.1" cy="251.5" r="1.05" fill="#2f7398" />
<polygon points="71.8,267.5 77,263 100.7,263 100.7,277.5 96,281.5 76.5,281.5 71.8,278" fill="url(#peo)" />
<polygon points="71.8,267.5 77,263 100.7,263 95.5,267.5" fill="#f4eacb" />
<polygon points="71.8,267.5 77.5,270 77.5,281.5 76.5,281.5 71.8,278" fill="#dcc88e" />
<circle cx="79.43" cy="273.25" r="0.45" fill="#e6a27a" />
<circle cx="82.99" cy="274.27" r="0.45" fill="#e6a27a" />
<circle cx="89.89" cy="265.11" r="0.45" fill="#e6a27a" />
<circle cx="73.36" cy="278.24" r="0.45" fill="#e6a27a" />
<circle cx="80" cy="267.98" r="0.45" fill="#e6a27a" />
<circle cx="99.88" cy="271.99" r="0.45" fill="#e6a27a" />
<circle cx="95.58" cy="272.1" r="0.45" fill="#e6a27a" />
<circle cx="90.25" cy="266.56" r="0.45" fill="#e6a27a" />
<circle cx="90.14" cy="278.76" r="0.45" fill="#e6a27a" />
<circle cx="87.13" cy="276.6" r="0.45" fill="#e6a27a" />
<circle cx="91.13" cy="265.09" r="0.45" fill="#e6a27a" />
<circle cx="93.47" cy="274.05" r="0.45" fill="#e6a27a" />
<circle cx="81.13" cy="264.53" r="0.45" fill="#e6a27a" />
<circle cx="96.37" cy="272.04" r="0.45" fill="#e6a27a" />
<circle cx="92.41" cy="278.94" r="0.45" fill="#e6a27a" />
<circle cx="92.28" cy="279.66" r="0.45" fill="#e6a27a" />
<circle cx="83.66" cy="277.62" r="0.45" fill="#e6a27a" />
<circle cx="85" cy="279.9" r="0.45" fill="#e6a27a" />
<circle cx="96.73" cy="265.66" r="0.45" fill="#e6a27a" />
<circle cx="76.67" cy="267.69" r="0.45" fill="#e6a27a" />
<circle cx="99.07" cy="271.41" r="0.45" fill="#e6a27a" />
<circle cx="89.92" cy="269.12" r="0.45" fill="#e6a27a" />
<circle cx="86.7" cy="270.56" r="0.45" fill="#e6a27a" />
<circle cx="82.47" cy="273.95" r="0.45" fill="#e6a27a" />
<circle cx="88.77" cy="279.37" r="0.45" fill="#e6a27a" />
<circle cx="91.41" cy="279.79" r="0.45" fill="#e6a27a" />
<circle cx="96.12" cy="280.85" r="0.45" fill="#e6a27a" />
<circle cx="91.12" cy="266.77" r="0.45" fill="#e6a27a" />
<circle cx="96.24" cy="280.4" r="0.45" fill="#e6a27a" />
<circle cx="97.43" cy="273.67" r="0.45" fill="#e6a27a" />
<circle cx="92.27" cy="267.59" r="0.45" fill="#e6a27a" />
<circle cx="95.45" cy="273.75" r="0.45" fill="#e6a27a" />
<circle cx="80.69" cy="265.08" r="0.45" fill="#e6a27a" />
<circle cx="96.06" cy="280.83" r="0.45" fill="#e6a27a" />
<circle cx="75.39" cy="277.61" r="0.45" fill="#e6a27a" />
<circle cx="84.08" cy="266.56" r="0.45" fill="#e6a27a" />
<circle cx="80.94" cy="277.07" r="0.45" fill="#e6a27a" />
<circle cx="96.56" cy="264.75" r="0.45" fill="#e6a27a" />
<circle cx="89.59" cy="264.76" r="0.45" fill="#e6a27a" />
<circle cx="92.4" cy="269.63" r="0.45" fill="#e6a27a" />
<rect x="12.7" y="287.4" width="7.1" height="7.2" fill="#8ab8ec" />
<text x="22.9" y="293.2" font-family="'Liberation Serif', serif" font-size="7.0" font-weight="bold" fill="#111" text-anchor="start" stroke="#111" stroke-width="0.35" textLength="17.8" lengthAdjust="spacingAndGlyphs">PDMS</text>
<rect x="49.6" y="287.4" width="6.9" height="7.2" fill="#f9e68c" />
<text x="59.8" y="293.2" font-family="'Liberation Serif', serif" font-size="7.0" font-weight="bold" fill="#111" text-anchor="start" stroke="#111" stroke-width="0.35" textLength="12.2" lengthAdjust="spacingAndGlyphs">PEO</text>
<rect x="84" y="287.4" width="7" height="7.2" fill="#f5a300" />
<text x="94.1" y="293.2" font-family="'Liberation Serif', serif" font-size="7.0" font-weight="bold" fill="#111" text-anchor="start" stroke="#111" stroke-width="0.35" textLength="19.9" lengthAdjust="spacingAndGlyphs">Copper</text>
<rect x="4.6" y="301" width="7.1" height="7.2" fill="#3a9a80" />
<text x="14.5" y="306.8" font-family="'Liberation Serif', serif" font-size="7.0" font-weight="bold" fill="#111" text-anchor="start" stroke="#111" stroke-width="0.35" textLength="9.7" lengthAdjust="spacingAndGlyphs">Tea</text>
<rect x="37.7" y="301" width="7.1" height="7.2" fill="#f2837c" />
<text x="46.6" y="306.8" font-family="'Liberation Serif', serif" font-size="7.0" font-weight="bold" fill="#111" text-anchor="start" stroke="#111" stroke-width="0.35" textLength="14.4" lengthAdjust="spacingAndGlyphs">NaCl</text>
<rect x="76.3" y="301" width="7.7" height="7.2" fill="#f29070" />
<text x="87" y="306.8" font-family="'Liberation Serif', serif" font-size="7.0" font-weight="bold" fill="#111" text-anchor="start" stroke="#111" stroke-width="0.35" textLength="46.6" lengthAdjust="spacingAndGlyphs">Insulating fabric</text>
<text x="116.4" y="238" font-family="'Liberation Serif', serif" font-size="11.5" font-weight="bold" fill="#000" text-anchor="start" >k</text>
<rect x="138.5" y="239.2" width="66" height="50" fill="none" stroke="#222" stroke-width="0.8" />
<line x1="137.2" y1="278.7" x2="138.5" y2="278.7" stroke="#222" stroke-width="0.5" />
<text x="136.7" y="280.3" font-family="'Liberation Serif', serif" font-size="5.1" font-weight="bold" fill="#222" text-anchor="end" >0.00</text>
<line x1="137.2" y1="266.43" x2="138.5" y2="266.43" stroke="#222" stroke-width="0.5" />
<text x="136.7" y="268.03" font-family="'Liberation Serif', serif" font-size="5.1" font-weight="bold" fill="#222" text-anchor="end" >0.01</text>
<line x1="137.2" y1="254.17" x2="138.5" y2="254.17" stroke="#222" stroke-width="0.5" />
<text x="136.7" y="255.77" font-family="'Liberation Serif', serif" font-size="5.1" font-weight="bold" fill="#222" text-anchor="end" >0.02</text>
<line x1="137.2" y1="241.9" x2="138.5" y2="241.9" stroke="#222" stroke-width="0.5" />
<text x="136.7" y="243.5" font-family="'Liberation Serif', serif" font-size="5.1" font-weight="bold" fill="#222" text-anchor="end" >0.03</text>
<line x1="139" y1="289.2" x2="139" y2="290.5" stroke="#222" stroke-width="0.5" />
<text x="139" y="295.4" font-family="'Liberation Serif', serif" font-size="4.9" font-weight="bold" fill="#222" text-anchor="middle" >0</text>
<line x1="149.25" y1="289.2" x2="149.25" y2="290.5" stroke="#222" stroke-width="0.5" />
<text x="149.25" y="295.4" font-family="'Liberation Serif', serif" font-size="4.9" font-weight="bold" fill="#222" text-anchor="middle" >3</text>
<line x1="159.5" y1="289.2" x2="159.5" y2="290.5" stroke="#222" stroke-width="0.5" />
<text x="159.5" y="295.4" font-family="'Liberation Serif', serif" font-size="4.9" font-weight="bold" fill="#222" text-anchor="middle" >6</text>
<line x1="169.75" y1="289.2" x2="169.75" y2="290.5" stroke="#222" stroke-width="0.5" />
<text x="169.75" y="295.4" font-family="'Liberation Serif', serif" font-size="4.9" font-weight="bold" fill="#222" text-anchor="middle" >9</text>
<line x1="180" y1="289.2" x2="180" y2="290.5" stroke="#222" stroke-width="0.5" />
<text x="180" y="295.4" font-family="'Liberation Serif', serif" font-size="4.9" font-weight="bold" fill="#222" text-anchor="middle" >12</text>
<line x1="190.25" y1="289.2" x2="190.25" y2="290.5" stroke="#222" stroke-width="0.5" />
<text x="190.25" y="295.4" font-family="'Liberation Serif', serif" font-size="4.9" font-weight="bold" fill="#222" text-anchor="middle" >15</text>
<line x1="200.5" y1="289.2" x2="200.5" y2="290.5" stroke="#222" stroke-width="0.5" />
<text x="200.5" y="295.4" font-family="'Liberation Serif', serif" font-size="4.9" font-weight="bold" fill="#222" text-anchor="middle" >18</text>
<polyline points="142.42,254.78 145.83,256.01 149.25,260.91 152.67,248.03 156.08,251.1 159.5,254.78 162.92,267.66 166.33,265.82 169.75,262.14 173.17,265.82 176.58,257.85 180,259.69 183.42,264.59 186.83,267.05 190.25,264.59 193.67,262.75 197.08,255.39 200.5,263.98" fill="none" stroke="#3f97d6" stroke-width="0.8" stroke-linejoin="round"/>
<polygon points="142.42,253.7 143.41,255.5 141.43,255.5" fill="#3f97d6" />
<polygon points="145.83,254.93 146.82,256.73 144.84,256.73" fill="#3f97d6" />
<polygon points="149.25,259.83 150.24,261.63 148.26,261.63" fill="#3f97d6" />
<polygon points="152.67,246.95 153.66,248.75 151.68,248.75" fill="#3f97d6" />
<polygon points="156.08,250.02 157.07,251.82 155.09,251.82" fill="#3f97d6" />
<polygon points="159.5,253.7 160.49,255.5 158.51,255.5" fill="#3f97d6" />
<polygon points="162.92,266.58 163.91,268.38 161.93,268.38" fill="#3f97d6" />
<polygon points="166.33,264.74 167.32,266.54 165.34,266.54" fill="#3f97d6" />
<polygon points="169.75,261.06 170.74,262.86 168.76,262.86" fill="#3f97d6" />
<polygon points="173.17,264.74 174.16,266.54 172.18,266.54" fill="#3f97d6" />
<polygon points="176.58,256.77 177.57,258.57 175.59,258.57" fill="#3f97d6" />
<polygon points="180,258.61 180.99,260.41 179.01,260.41" fill="#3f97d6" />
<polygon points="183.42,263.51 184.41,265.31 182.43,265.31" fill="#3f97d6" />
<polygon points="186.83,265.97 187.82,267.77 185.84,267.77" fill="#3f97d6" />
<polygon points="190.25,263.51 191.24,265.31 189.26,265.31" fill="#3f97d6" />
<polygon points="193.67,261.67 194.66,263.47 192.68,263.47" fill="#3f97d6" />
<polygon points="197.08,254.31 198.07,256.11 196.09,256.11" fill="#3f97d6" />
<polygon points="200.5,262.9 201.49,264.7 199.51,264.7" fill="#3f97d6" />
<polyline points="142.42,274.04 145.83,275.63 149.25,276.25 152.67,275.63 156.08,275.27 159.5,276 162.92,271.95 166.33,271.34 169.75,271.34 173.17,275.63 176.58,276.25 180,275.63 183.42,271.95 186.83,273.79 190.25,274.41 193.67,272.57 197.08,272.81 200.5,274.41" fill="none" stroke="#f7962a" stroke-width="0.8" stroke-linejoin="round"/>
<circle cx="142.42" cy="274.04" r="0.85" fill="#f7962a" />
<circle cx="145.83" cy="275.63" r="0.85" fill="#f7962a" />
<circle cx="149.25" cy="276.25" r="0.85" fill="#f7962a" />
<circle cx="152.67" cy="275.63" r="0.85" fill="#f7962a" />
<circle cx="156.08" cy="275.27" r="0.85" fill="#f7962a" />
<circle cx="159.5" cy="276" r="0.85" fill="#f7962a" />
<circle cx="162.92" cy="271.95" r="0.85" fill="#f7962a" />
<circle cx="166.33" cy="271.34" r="0.85" fill="#f7962a" />
<circle cx="169.75" cy="271.34" r="0.85" fill="#f7962a" />
<circle cx="173.17" cy="275.63" r="0.85" fill="#f7962a" />
<circle cx="176.58" cy="276.25" r="0.85" fill="#f7962a" />
<circle cx="180" cy="275.63" r="0.85" fill="#f7962a" />
<circle cx="183.42" cy="271.95" r="0.85" fill="#f7962a" />
<circle cx="186.83" cy="273.79" r="0.85" fill="#f7962a" />
<circle cx="190.25" cy="274.41" r="0.85" fill="#f7962a" />
<circle cx="193.67" cy="272.57" r="0.85" fill="#f7962a" />
<circle cx="197.08" cy="272.81" r="0.85" fill="#f7962a" />
<circle cx="200.5" cy="274.41" r="0.85" fill="#f7962a" />
<line x1="166.5" y1="242.8" x2="176.5" y2="242.8" stroke="#3f97d6" stroke-width="0.8" />
<polygon points="171.5,241.72 172.49,243.52 170.51,243.52" fill="#3f97d6" />
<text x="178" y="244.3" font-family="'Liberation Serif', serif" font-size="4.3" font-weight="bold" fill="#222" text-anchor="start" >Normal state</text>
<line x1="166.5" y1="247.1" x2="176.5" y2="247.1" stroke="#f7962a" stroke-width="0.8" />
<circle cx="171.5" cy="247.1" r="0.85" fill="#f7962a" />
<text x="178" y="248.6" font-family="'Liberation Serif', serif" font-size="4.3" font-weight="bold" fill="#222" text-anchor="start" >Fatigue state</text>
<text x="140.6" y="283.8" font-family="'Liberation Serif', serif" font-size="3.6" font-weight="bold" fill="#222">MRA in <tspan fill="#3f97d6">normal</tspan> state: 0.015 V</text>
<text x="140.6" y="287.8" font-family="'Liberation Serif', serif" font-size="3.6" font-weight="bold" fill="#222">MRA in <tspan fill="#f7962a">fatigue</tspan> state: 0.004 V</text>
<text x="0" y="0" font-family="'Liberation Serif', serif" font-size="7.0" font-weight="bold" fill="#111" text-anchor="middle" transform="translate(124.9,264.8) rotate(-90)" textLength="16" lengthAdjust="spacingAndGlyphs">MRA</text>
<text x="173.3" y="302.6" font-family="'Liberation Serif', serif" font-size="7.2" font-weight="bold" fill="#111" text-anchor="middle"  textLength="27" lengthAdjust="spacingAndGlyphs">Sequence</text>
<text x="213.2" y="237.4" font-family="'Liberation Serif', serif" font-size="11.5" font-weight="bold" fill="#000" text-anchor="start" >l</text>
<rect x="232.6" y="239.2" width="66.8" height="50" fill="none" stroke="#222" stroke-width="0.8" />
<line x1="231.3" y1="279.8" x2="232.6" y2="279.8" stroke="#222" stroke-width="0.5" />
<text x="230.8" y="281.4" font-family="'Liberation Serif', serif" font-size="5.1" font-weight="bold" fill="#222" text-anchor="end" >0.000</text>
<line x1="231.3" y1="267.3" x2="232.6" y2="267.3" stroke="#222" stroke-width="0.5" />
<text x="230.8" y="268.9" font-family="'Liberation Serif', serif" font-size="5.1" font-weight="bold" fill="#222" text-anchor="end" >0.002</text>
<line x1="231.3" y1="254.8" x2="232.6" y2="254.8" stroke="#222" stroke-width="0.5" />
<text x="230.8" y="256.4" font-family="'Liberation Serif', serif" font-size="5.1" font-weight="bold" fill="#222" text-anchor="end" >0.004</text>
<line x1="231.3" y1="242.3" x2="232.6" y2="242.3" stroke="#222" stroke-width="0.5" />
<text x="230.8" y="243.9" font-family="'Liberation Serif', serif" font-size="5.1" font-weight="bold" fill="#222" text-anchor="end" >0.006</text>
<line x1="232.8" y1="289.2" x2="232.8" y2="290.5" stroke="#222" stroke-width="0.5" />
<text x="232.8" y="295.4" font-family="'Liberation Serif', serif" font-size="4.9" font-weight="bold" fill="#222" text-anchor="middle" >0</text>
<line x1="243.22" y1="289.2" x2="243.22" y2="290.5" stroke="#222" stroke-width="0.5" />
<text x="243.22" y="295.4" font-family="'Liberation Serif', serif" font-size="4.9" font-weight="bold" fill="#222" text-anchor="middle" >3</text>
<line x1="253.63" y1="289.2" x2="253.63" y2="290.5" stroke="#222" stroke-width="0.5" />
<text x="253.63" y="295.4" font-family="'Liberation Serif', serif" font-size="4.9" font-weight="bold" fill="#222" text-anchor="middle" >6</text>
<line x1="264.05" y1="289.2" x2="264.05" y2="290.5" stroke="#222" stroke-width="0.5" />
<text x="264.05" y="295.4" font-family="'Liberation Serif', serif" font-size="4.9" font-weight="bold" fill="#222" text-anchor="middle" >9</text>
<line x1="274.47" y1="289.2" x2="274.47" y2="290.5" stroke="#222" stroke-width="0.5" />
<text x="274.47" y="295.4" font-family="'Liberation Serif', serif" font-size="4.9" font-weight="bold" fill="#222" text-anchor="middle" >12</text>
<line x1="284.88" y1="289.2" x2="284.88" y2="290.5" stroke="#222" stroke-width="0.5" />
<text x="284.88" y="295.4" font-family="'Liberation Serif', serif" font-size="4.9" font-weight="bold" fill="#222" text-anchor="middle" >15</text>
<line x1="295.3" y1="289.2" x2="295.3" y2="290.5" stroke="#222" stroke-width="0.5" />
<text x="295.3" y="295.4" font-family="'Liberation Serif', serif" font-size="4.9" font-weight="bold" fill="#222" text-anchor="middle" >18</text>
<polyline points="236.27,257.3 239.74,259.18 243.22,267.3 246.69,250.43 250.16,260.43 253.63,257.3 257.11,261.68 260.58,269.18 264.05,252.3 267.52,270.43 270.99,271.05 274.47,259.18 277.94,267.3 281.41,257.3 284.88,257.3 288.36,268.55 291.83,255.43 295.3,260.43" fill="none" stroke="#3f97d6" stroke-width="0.8" stroke-linejoin="round"/>
<polygon points="236.27,256.22 237.26,258.02 235.28,258.02" fill="#3f97d6" />
<polygon points="239.74,258.1 240.73,259.9 238.75,259.9" fill="#3f97d6" />
<polygon points="243.22,266.22 244.21,268.02 242.23,268.02" fill="#3f97d6" />
<polygon points="246.69,249.34 247.68,251.15 245.7,251.15" fill="#3f97d6" />
<polygon points="250.16,259.35 251.15,261.15 249.17,261.15" fill="#3f97d6" />
<polygon points="253.63,256.22 254.62,258.02 252.64,258.02" fill="#3f97d6" />
<polygon points="257.11,260.6 258.1,262.4 256.12,262.4" fill="#3f97d6" />
<polygon points="260.58,268.1 261.57,269.9 259.59,269.9" fill="#3f97d6" />
<polygon points="264.05,251.22 265.04,253.02 263.06,253.02" fill="#3f97d6" />
<polygon points="267.52,269.35 268.51,271.15 266.53,271.15" fill="#3f97d6" />
<polygon points="270.99,269.97 271.98,271.77 270,271.77" fill="#3f97d6" />
<polygon points="274.47,258.1 275.46,259.9 273.48,259.9" fill="#3f97d6" />
<polygon points="277.94,266.22 278.93,268.02 276.95,268.02" fill="#3f97d6" />
<polygon points="281.41,256.22 282.4,258.02 280.42,258.02" fill="#3f97d6" />
<polygon points="284.88,256.22 285.87,258.02 283.89,258.02" fill="#3f97d6" />
<polygon points="288.36,267.47 289.35,269.27 287.37,269.27" fill="#3f97d6" />
<polygon points="291.83,254.34 292.82,256.15 290.84,256.15" fill="#3f97d6" />
<polygon points="295.3,259.35 296.29,261.15 294.31,261.15" fill="#3f97d6" />
<polyline points="236.27,275.43 239.74,278.55 243.22,278.55 246.69,274.8 250.16,276.68 253.63,275.43 257.11,275.43 260.58,274.8 264.05,275.43 267.52,275.43 270.99,275.43 274.47,274.8 277.94,274.8 281.41,275.43 284.88,276.05 288.36,276.05 291.83,274.8 295.3,276.68" fill="none" stroke="#f7962a" stroke-width="0.8" stroke-linejoin="round"/>
<circle cx="236.27" cy="275.43" r="0.85" fill="#f7962a" />
<circle cx="239.74" cy="278.55" r="0.85" fill="#f7962a" />
<circle cx="243.22" cy="278.55" r="0.85" fill="#f7962a" />
<circle cx="246.69" cy="274.8" r="0.85" fill="#f7962a" />
<circle cx="250.16" cy="276.68" r="0.85" fill="#f7962a" />
<circle cx="253.63" cy="275.43" r="0.85" fill="#f7962a" />
<circle cx="257.11" cy="275.43" r="0.85" fill="#f7962a" />
<circle cx="260.58" cy="274.8" r="0.85" fill="#f7962a" />
<circle cx="264.05" cy="275.43" r="0.85" fill="#f7962a" />
<circle cx="267.52" cy="275.43" r="0.85" fill="#f7962a" />
<circle cx="270.99" cy="275.43" r="0.85" fill="#f7962a" />
<circle cx="274.47" cy="274.8" r="0.85" fill="#f7962a" />
<circle cx="277.94" cy="274.8" r="0.85" fill="#f7962a" />
<circle cx="281.41" cy="275.43" r="0.85" fill="#f7962a" />
<circle cx="284.88" cy="276.05" r="0.85" fill="#f7962a" />
<circle cx="288.36" cy="276.05" r="0.85" fill="#f7962a" />
<circle cx="291.83" cy="274.8" r="0.85" fill="#f7962a" />
<circle cx="295.3" cy="276.68" r="0.85" fill="#f7962a" />
<line x1="263" y1="243.5" x2="273" y2="243.5" stroke="#3f97d6" stroke-width="0.8" />
<polygon points="268,242.42 268.99,244.22 267.01,244.22" fill="#3f97d6" />
<text x="274.5" y="245" font-family="'Liberation Serif', serif" font-size="4.3" font-weight="bold" fill="#222" text-anchor="start" >Normal state</text>
<line x1="263" y1="247.8" x2="273" y2="247.8" stroke="#f7962a" stroke-width="0.8" />
<circle cx="268" cy="247.8" r="0.85" fill="#f7962a" />
<text x="274.5" y="249.3" font-family="'Liberation Serif', serif" font-size="4.3" font-weight="bold" fill="#222" text-anchor="start" >Fatigue state</text>
<text x="234.4" y="283.8" font-family="'Liberation Serif', serif" font-size="3.6" font-weight="bold" fill="#222">A<tspan font-size="2.4" dy="0.8">RA</tspan><tspan dy="-0.8"> in </tspan><tspan fill="#3f97d6">normal</tspan> state: 0.00295</text>
<text x="234.4" y="287.8" font-family="'Liberation Serif', serif" font-size="3.6" font-weight="bold" fill="#222">A<tspan font-size="2.4" dy="0.8">RA</tspan><tspan dy="-0.8"> in </tspan><tspan fill="#f7962a">fatigue</tspan> state: 0.00068</text>
<text transform="translate(213.4,265.0) rotate(-90)" font-family="'Liberation Serif', serif" font-size="8.5" font-weight="bold" fill="#111" text-anchor="middle">σ<tspan font-size="5" dy="1.4">RA</tspan></text>
<text x="266.4" y="302.6" font-family="'Liberation Serif', serif" font-size="7.2" font-weight="bold" fill="#111" text-anchor="middle"  textLength="27" lengthAdjust="spacingAndGlyphs">Sequence</text>
<text x="306.8" y="236.6" font-family="'Liberation Serif', serif" font-size="11.5" font-weight="bold" fill="#000" text-anchor="start" >m</text>
<rect x="320.6" y="238.6" width="66.6" height="52" fill="none" stroke="#222" stroke-width="0.8" />
<line x1="319.3" y1="286.5" x2="320.6" y2="286.5" stroke="#222" stroke-width="0.5" />
<text x="318.8" y="288.1" font-family="'Liberation Serif', serif" font-size="5.1" font-weight="bold" fill="#222" text-anchor="end" >8</text>
<line x1="319.3" y1="277.9" x2="320.6" y2="277.9" stroke="#222" stroke-width="0.5" />
<text x="318.8" y="279.5" font-family="'Liberation Serif', serif" font-size="5.1" font-weight="bold" fill="#222" text-anchor="end" >12</text>
<line x1="319.3" y1="269.3" x2="320.6" y2="269.3" stroke="#222" stroke-width="0.5" />
<text x="318.8" y="270.9" font-family="'Liberation Serif', serif" font-size="5.1" font-weight="bold" fill="#222" text-anchor="end" >16</text>
<line x1="319.3" y1="260.7" x2="320.6" y2="260.7" stroke="#222" stroke-width="0.5" />
<text x="318.8" y="262.3" font-family="'Liberation Serif', serif" font-size="5.1" font-weight="bold" fill="#222" text-anchor="end" >20</text>
<line x1="319.3" y1="252.1" x2="320.6" y2="252.1" stroke="#222" stroke-width="0.5" />
<text x="318.8" y="253.7" font-family="'Liberation Serif', serif" font-size="5.1" font-weight="bold" fill="#222" text-anchor="end" >24</text>
<line x1="319.3" y1="243.5" x2="320.6" y2="243.5" stroke="#222" stroke-width="0.5" />
<text x="318.8" y="245.1" font-family="'Liberation Serif', serif" font-size="5.1" font-weight="bold" fill="#222" text-anchor="end" >28</text>
<line x1="322.3" y1="290.6" x2="322.3" y2="291.9" stroke="#222" stroke-width="0.5" />
<text x="322.3" y="295.4" font-family="'Liberation Serif', serif" font-size="4.9" font-weight="bold" fill="#222" text-anchor="middle" >0</text>
<line x1="332.37" y1="290.6" x2="332.37" y2="291.9" stroke="#222" stroke-width="0.5" />
<text x="332.37" y="295.4" font-family="'Liberation Serif', serif" font-size="4.9" font-weight="bold" fill="#222" text-anchor="middle" >3</text>
<line x1="342.43" y1="290.6" x2="342.43" y2="291.9" stroke="#222" stroke-width="0.5" />
<text x="342.43" y="295.4" font-family="'Liberation Serif', serif" font-size="4.9" font-weight="bold" fill="#222" text-anchor="middle" >6</text>
<line x1="352.5" y1="290.6" x2="352.5" y2="291.9" stroke="#222" stroke-width="0.5" />
<text x="352.5" y="295.4" font-family="'Liberation Serif', serif" font-size="4.9" font-weight="bold" fill="#222" text-anchor="middle" >9</text>
<line x1="362.57" y1="290.6" x2="362.57" y2="291.9" stroke="#222" stroke-width="0.5" />
<text x="362.57" y="295.4" font-family="'Liberation Serif', serif" font-size="4.9" font-weight="bold" fill="#222" text-anchor="middle" >12</text>
<line x1="372.63" y1="290.6" x2="372.63" y2="291.9" stroke="#222" stroke-width="0.5" />
<text x="372.63" y="295.4" font-family="'Liberation Serif', serif" font-size="4.9" font-weight="bold" fill="#222" text-anchor="middle" >15</text>
<line x1="382.7" y1="290.6" x2="382.7" y2="291.9" stroke="#222" stroke-width="0.5" />
<text x="382.7" y="295.4" font-family="'Liberation Serif', serif" font-size="4.9" font-weight="bold" fill="#222" text-anchor="middle" >18</text>
<polyline points="325.66,258.55 329.01,254.25 332.37,252.1 335.72,258.55 339.08,256.4 342.43,256.4 345.79,252.1 349.14,254.25 352.5,262.85 355.86,260.7 359.21,258.55 362.57,252.1 365.92,258.55 369.28,256.4 372.63,254.25 375.99,260.7 379.34,262.85 382.7,256.4" fill="none" stroke="#3f97d6" stroke-width="0.8" stroke-linejoin="round"/>
<polygon points="325.66,257.47 326.65,259.27 324.67,259.27" fill="#3f97d6" />
<polygon points="329.01,253.17 330,254.97 328.02,254.97" fill="#3f97d6" />
<polygon points="332.37,251.02 333.36,252.82 331.38,252.82" fill="#3f97d6" />
<polygon points="335.72,257.47 336.71,259.27 334.73,259.27" fill="#3f97d6" />
<polygon points="339.08,255.32 340.07,257.12 338.09,257.12" fill="#3f97d6" />
<polygon points="342.43,255.32 343.42,257.12 341.44,257.12" fill="#3f97d6" />
<polygon points="345.79,251.02 346.78,252.82 344.8,252.82" fill="#3f97d6" />
<polygon points="349.14,253.17 350.13,254.97 348.15,254.97" fill="#3f97d6" />
<polygon points="352.5,261.77 353.49,263.57 351.51,263.57" fill="#3f97d6" />
<polygon points="355.86,259.62 356.85,261.42 354.87,261.42" fill="#3f97d6" />
<polygon points="359.21,257.47 360.2,259.27 358.22,259.27" fill="#3f97d6" />
<polygon points="362.57,251.02 363.56,252.82 361.58,252.82" fill="#3f97d6" />
<polygon points="365.92,257.47 366.91,259.27 364.93,259.27" fill="#3f97d6" />
<polygon points="369.28,255.32 370.27,257.12 368.29,257.12" fill="#3f97d6" />
<polygon points="372.63,253.17 373.62,254.97 371.64,254.97" fill="#3f97d6" />
<polygon points="375.99,259.62 376.98,261.42 375,261.42" fill="#3f97d6" />
<polygon points="379.34,261.77 380.33,263.57 378.35,263.57" fill="#3f97d6" />
<polygon points="382.7,255.32 383.69,257.12 381.71,257.12" fill="#3f97d6" />
<polyline points="325.66,271.45 329.01,273.6 332.37,273.6 335.72,277.9 339.08,269.3 342.43,273.6 345.79,271.45 349.14,273.6 352.5,271.45 355.86,269.3 359.21,269.3 362.57,271.45 365.92,275.75 369.28,275.75 372.63,275.75 375.99,273.6 379.34,271.45 382.7,273.6" fill="none" stroke="#f7962a" stroke-width="0.8" stroke-linejoin="round"/>
<circle cx="325.66" cy="271.45" r="0.85" fill="#f7962a" />
<circle cx="329.01" cy="273.6" r="0.85" fill="#f7962a" />
<circle cx="332.37" cy="273.6" r="0.85" fill="#f7962a" />
<circle cx="335.72" cy="277.9" r="0.85" fill="#f7962a" />
<circle cx="339.08" cy="269.3" r="0.85" fill="#f7962a" />
<circle cx="342.43" cy="273.6" r="0.85" fill="#f7962a" />
<circle cx="345.79" cy="271.45" r="0.85" fill="#f7962a" />
<circle cx="349.14" cy="273.6" r="0.85" fill="#f7962a" />
<circle cx="352.5" cy="271.45" r="0.85" fill="#f7962a" />
<circle cx="355.86" cy="269.3" r="0.85" fill="#f7962a" />
<circle cx="359.21" cy="269.3" r="0.85" fill="#f7962a" />
<circle cx="362.57" cy="271.45" r="0.85" fill="#f7962a" />
<circle cx="365.92" cy="275.75" r="0.85" fill="#f7962a" />
<circle cx="369.28" cy="275.75" r="0.85" fill="#f7962a" />
<circle cx="372.63" cy="275.75" r="0.85" fill="#f7962a" />
<circle cx="375.99" cy="273.6" r="0.85" fill="#f7962a" />
<circle cx="379.34" cy="271.45" r="0.85" fill="#f7962a" />
<circle cx="382.7" cy="273.6" r="0.85" fill="#f7962a" />
<line x1="353" y1="242.8" x2="363" y2="242.8" stroke="#3f97d6" stroke-width="0.8" />
<polygon points="358,241.72 358.99,243.52 357.01,243.52" fill="#3f97d6" />
<text x="364.5" y="244.3" font-family="'Liberation Serif', serif" font-size="4.3" font-weight="bold" fill="#222" text-anchor="start" >Normal state</text>
<line x1="353" y1="247.1" x2="363" y2="247.1" stroke="#f7962a" stroke-width="0.8" />
<circle cx="358" cy="247.1" r="0.85" fill="#f7962a" />
<text x="364.5" y="248.6" font-family="'Liberation Serif', serif" font-size="4.3" font-weight="bold" fill="#222" text-anchor="start" >Fatigue state</text>
<text x="322.6" y="284" font-family="'Liberation Serif', serif" font-size="3.6" font-weight="bold" fill="#222">RR in <tspan fill="#3f97d6">normal</tspan> state: 22</text>
<text x="322.6" y="288.2" font-family="'Liberation Serif', serif" font-size="3.6" font-weight="bold" fill="#222">RR in <tspan fill="#f7962a">fatigue</tspan> state: 14</text>
<text x="0" y="0" font-family="'Liberation Serif', serif" font-size="7.0" font-weight="bold" fill="#111" text-anchor="middle" transform="translate(310.0,264.2) rotate(-90)" textLength="9.2" lengthAdjust="spacingAndGlyphs">RR</text>
<text x="352.4" y="302.8" font-family="'Liberation Serif', serif" font-size="7.2" font-weight="bold" fill="#111" text-anchor="middle"  textLength="27" lengthAdjust="spacingAndGlyphs">Sequence</text>
<text x="393.4" y="218.3" font-family="'Liberation Serif', serif" font-size="11.5" font-weight="bold" fill="#000" text-anchor="start" >n</text>
<rect x="406.4" y="212.5" width="80.5" height="5.6" fill="#fff" stroke="#5b9bd5" stroke-width="0.9" rx="2.5" />
<text x="408.4" y="216.8" font-family="'Liberation Sans', sans-serif" font-size="4.1" font-weight="bold" fill="#111" stroke="#111" stroke-width="0.12" textLength="77" lengthAdjust="spacingAndGlyphs">RR &gt; T<tspan font-size="2.8" dy="0.9">RR</tspan><tspan dy="-0.9"> </tspan>, MRA &gt; T<tspan font-size="2.8" dy="0.9">MRA</tspan><tspan dy="-0.9"> </tspan>, σ<tspan font-size="2.8" dy="0.9">RA</tspan><tspan dy="-0.9"> </tspan>&gt; Tσ<tspan font-size="2.8" dy="0.9">RA</tspan><tspan dy="-0.9"> </tspan>, YF &gt; T<tspan font-size="2.8" dy="0.9">YF</tspan><tspan dy="-0.9"> </tspan></text>
<line x1="486.9" y1="215.5" x2="493.6" y2="215.5" stroke="#5b9bd5" stroke-width="0.6" stroke-dasharray="1 0.8" />
<polygon points="494.1,215.5 497.7,211.8 518.8,211.8 518.8,219.2 497.7,219.2" fill="#f7b718" />
<text x="508.25" y="217.5" font-family="'Liberation Serif', serif" font-size="6.4" font-weight="bold" fill="#fff" text-anchor="middle"  textLength="17.5" lengthAdjust="spacingAndGlyphs">Normal</text>
<rect x="407" y="221.1" width="89.4" height="18.7" fill="#fff" stroke="#5b9bd5" stroke-width="0.9" rx="2.5" />
<text x="408.2" y="226" font-family="'Liberation Sans', sans-serif" font-size="4.1" font-weight="bold" fill="#111" stroke="#111" stroke-width="0.12" textLength="87" lengthAdjust="spacingAndGlyphs">1. One of RR,  MRA, σ<tspan font-size="2.8" dy="0.9">RA</tspan><tspan dy="-0.9"> </tspan> is less than or equal to</text>
<text x="408.2" y="231.5" font-family="'Liberation Sans', sans-serif" font-size="4.1" font-weight="bold" fill="#111" stroke="#111" stroke-width="0.12" textLength="46.3" lengthAdjust="spacingAndGlyphs">the threshold, and YF &gt; T<tspan font-size="2.8" dy="0.9">YF</tspan><tspan dy="-0.9"> </tspan></text>
<text x="408.2" y="237.3" font-family="'Liberation Sans', sans-serif" font-size="4.1" font-weight="bold" fill="#111" stroke="#111" stroke-width="0.12" textLength="86.3" lengthAdjust="spacingAndGlyphs">2. RR &gt; T<tspan font-size="2.8" dy="0.9">RR</tspan><tspan dy="-0.9"> </tspan>,  MRA &gt; T<tspan font-size="2.8" dy="0.9">MRA</tspan><tspan dy="-0.9"> </tspan>,  σ<tspan font-size="2.8" dy="0.9">RA</tspan><tspan dy="-0.9"> </tspan>&gt; Tσ<tspan font-size="2.8" dy="0.9">RA</tspan><tspan dy="-0.9"> </tspan>,  YF ≥ T<tspan font-size="2.8" dy="0.9">YF</tspan><tspan dy="-0.9"> </tspan></text>
<line x1="496.4" y1="231.1" x2="503.3" y2="231.1" stroke="#5b9bd5" stroke-width="0.6" stroke-dasharray="1 0.8" />
<polygon points="503.8,231.1 507.4,227.1 538.2,227.1 538.2,235.1 507.4,235.1" fill="#f7b21a" />
<text x="522.8" y="233.1" font-family="'Liberation Serif', serif" font-size="6.4" font-weight="bold" fill="#fff" text-anchor="middle"  textLength="29.5" lengthAdjust="spacingAndGlyphs">Mild fatigue</text>
<rect x="407" y="242.5" width="80" height="22.9" fill="#fff" stroke="#5b9bd5" stroke-width="0.9" rx="2.5" />
<text x="408.2" y="247.5" font-family="'Liberation Sans', sans-serif" font-size="4.1" font-weight="bold" fill="#111" stroke="#111" stroke-width="0.12" textLength="76.6" lengthAdjust="spacingAndGlyphs">1. Two of RR,  MRA, σ<tspan font-size="2.8" dy="0.9">RA</tspan><tspan dy="-0.9"> </tspan> are less than or</text>
<text x="408.2" y="253" font-family="'Liberation Sans', sans-serif" font-size="4.1" font-weight="bold" fill="#111" stroke="#111" stroke-width="0.12" textLength="63" lengthAdjust="spacingAndGlyphs">equal to the threshold, and YF &lt;T<tspan font-size="2.8" dy="0.9">YF</tspan><tspan dy="-0.9"> </tspan></text>
<text x="408.2" y="258.5" font-family="'Liberation Sans', sans-serif" font-size="4.1" font-weight="bold" fill="#111" stroke="#111" stroke-width="0.12" textLength="76.6" lengthAdjust="spacingAndGlyphs">2. Only one of RR,  MRA, σ<tspan font-size="2.8" dy="0.9">RA</tspan><tspan dy="-0.9"> </tspan> is less than</text>
<text x="408.2" y="263.8" font-family="'Liberation Sans', sans-serif" font-size="4.1" font-weight="bold" fill="#111" stroke="#111" stroke-width="0.12" textLength="67" lengthAdjust="spacingAndGlyphs">or equal to the threshold, and YF ≥ T<tspan font-size="2.8" dy="0.9">YF</tspan><tspan dy="-0.9"> </tspan></text>
<line x1="487" y1="254.4" x2="493.6" y2="254.4" stroke="#5b9bd5" stroke-width="0.6" stroke-dasharray="1 0.8" />
<polygon points="494.1,254.4 497.7,250.5 539.1,250.5 539.1,258.3 497.7,258.3" fill="#f5931a" />
<text x="518.4" y="256.4" font-family="'Liberation Serif', serif" font-size="6.4" font-weight="bold" fill="#fff" text-anchor="middle"  textLength="38.5" lengthAdjust="spacingAndGlyphs">Moderate fatigue</text>
<rect x="406.8" y="268.1" width="76.4" height="24.5" fill="#fff" stroke="#5b9bd5" stroke-width="0.9" rx="2.5" />
<text x="408.2" y="273.2" font-family="'Liberation Sans', sans-serif" font-size="4.1" font-weight="bold" fill="#111" stroke="#111" stroke-width="0.12" textLength="71.8" lengthAdjust="spacingAndGlyphs">1. RR,  MRA, σ<tspan font-size="2.8" dy="0.9">RA</tspan><tspan dy="-0.9"> </tspan> are less than or equal</text>
<text x="408.2" y="278.3" font-family="'Liberation Sans', sans-serif" font-size="4.1" font-weight="bold" fill="#111" stroke="#111" stroke-width="0.12" textLength="52.3" lengthAdjust="spacingAndGlyphs">to the threshold, and YF &gt; T<tspan font-size="2.8" dy="0.9">YF</tspan><tspan dy="-0.9"> </tspan></text>
<text x="408.2" y="284.4" font-family="'Liberation Sans', sans-serif" font-size="4.1" font-weight="bold" fill="#111" stroke="#111" stroke-width="0.12" textLength="71.8" lengthAdjust="spacingAndGlyphs">2. Two of RR,  MRA, σ<tspan font-size="2.8" dy="0.9">RA</tspan><tspan dy="-0.9"> </tspan> are less than or</text>
<text x="408.2" y="289.6" font-family="'Liberation Sans', sans-serif" font-size="4.1" font-weight="bold" fill="#111" stroke="#111" stroke-width="0.12" textLength="64.5" lengthAdjust="spacingAndGlyphs">equal to the threshold, and YF ≥ T<tspan font-size="2.8" dy="0.9">YF</tspan><tspan dy="-0.9"> </tspan></text>
<line x1="483.2" y1="281.4" x2="490.6" y2="281.4" stroke="#5b9bd5" stroke-width="0.6" stroke-dasharray="1 0.8" />
<polygon points="491,281.4 494.6,277.55 529.1,277.55 529.1,285.25 494.6,285.25" fill="#f37a1a" />
<text x="511.85" y="283.4" font-family="'Liberation Serif', serif" font-size="6.4" font-weight="bold" fill="#fff" text-anchor="middle"  textLength="31" lengthAdjust="spacingAndGlyphs">Severe fatigue</text>
<rect x="406.8" y="297.3" width="79.9" height="7.3" fill="#fff" stroke="#5b9bd5" stroke-width="0.9" rx="2.5" />
<text x="408.8" y="302.4" font-family="'Liberation Sans', sans-serif" font-size="4.1" font-weight="bold" fill="#111" stroke="#111" stroke-width="0.12" textLength="77" lengthAdjust="spacingAndGlyphs">RR ≤ T<tspan font-size="2.8" dy="0.9">RR</tspan><tspan dy="-0.9"> </tspan>, MRA ≤ T<tspan font-size="2.8" dy="0.9">MRA</tspan><tspan dy="-0.9"> </tspan>, σ<tspan font-size="2.8" dy="0.9">RA</tspan><tspan dy="-0.9"> </tspan>≤ Tσ<tspan font-size="2.8" dy="0.9">RA</tspan><tspan dy="-0.9"> </tspan>, YF ≥ T<tspan font-size="2.8" dy="0.9">YF</tspan><tspan dy="-0.9"> </tspan></text>
<line x1="486.7" y1="301.2" x2="492.8" y2="301.2" stroke="#5b9bd5" stroke-width="0.6" stroke-dasharray="1 0.8" />
<polygon points="493.3,301.2 496.9,297.15 536.1,297.15 536.1,305.25 496.9,305.25" fill="#e4601a" />
<text x="516.5" y="303.2" font-family="'Liberation Serif', serif" font-size="6.4" font-weight="bold" fill="#fff" text-anchor="middle"  textLength="35" lengthAdjust="spacingAndGlyphs">Extreme fatigue</text>
<line x1="2.7" y1="2.6" x2="547.9" y2="2.6" stroke="#383838" stroke-width="1.4" stroke-dasharray="3.3 2.5" />
<line x1="2.2" y1="5.1" x2="2.2" y2="309.9" stroke="#383838" stroke-width="1.4" stroke-dasharray="3.3 2.5" />
<line x1="547.9" y1="5.1" x2="547.9" y2="309.9" stroke="#383838" stroke-width="1.4" stroke-dasharray="3.3 2.5" />
<line x1="5.3" y1="309.7" x2="547.9" y2="309.7" stroke="#383838" stroke-width="1.4" stroke-dasharray="3.3 2.5" />
<line x1="2.7" y1="110.35" x2="547.9" y2="110.35" stroke="#383838" stroke-width="1.4" stroke-dasharray="3.3 2.5" />
<line x1="2.7" y1="225.9" x2="292.4" y2="225.9" stroke="#383838" stroke-width="1.4" stroke-dasharray="3.3 2.5" />
<line x1="291.9" y1="207.4" x2="291.9" y2="226.5" stroke="#383838" stroke-width="1.4" stroke-dasharray="3.3 2.5" />
<line x1="291.9" y1="207.4" x2="547.9" y2="207.4" stroke="#383838" stroke-width="1.4" stroke-dasharray="3.3 2.5" />
</svg>
</body></html>
